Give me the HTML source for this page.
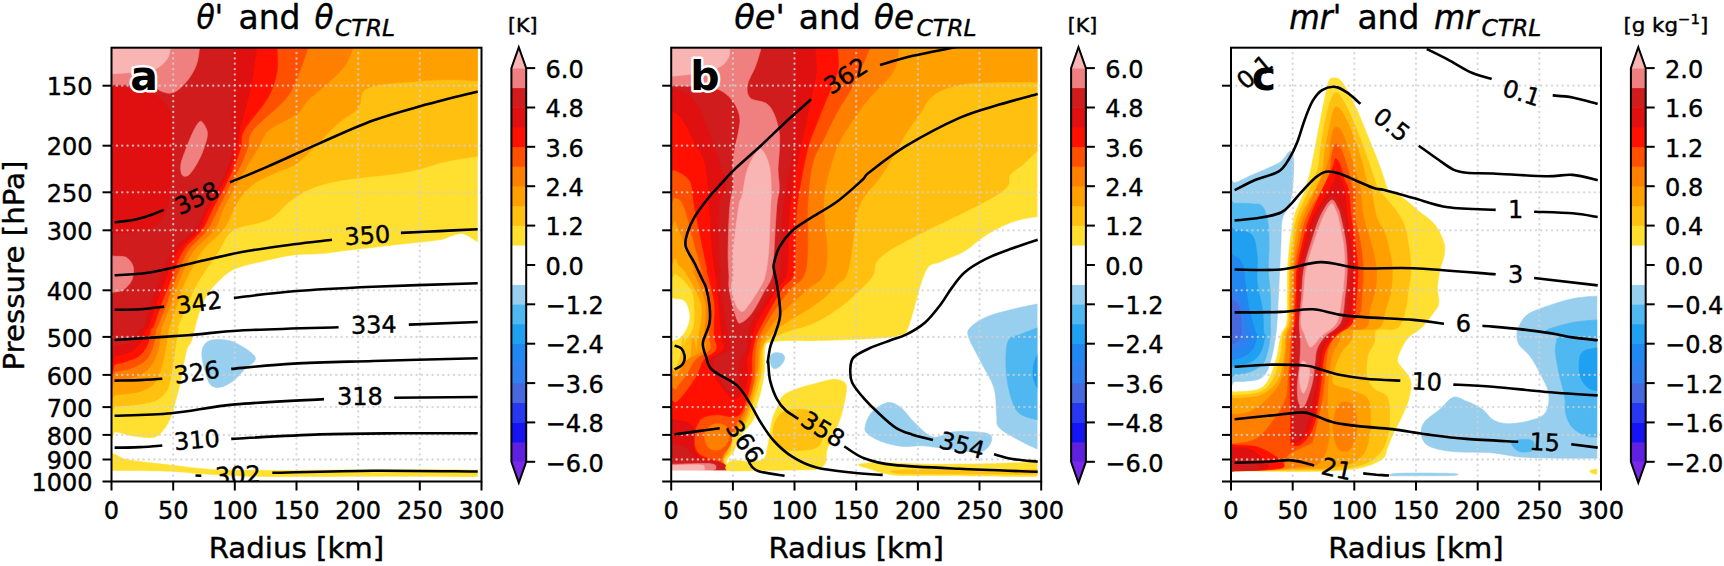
<!DOCTYPE html>
<html><head><meta charset="utf-8"><title>figure</title><style>html,body{margin:0;padding:0;background:#fff}body{width:1724px;height:566px;overflow:hidden}</style></head><body>
<svg width="1724" height="566" viewBox="0 0 1724 566" font-family='"DejaVu Sans", "Liberation Sans", sans-serif' style="display:block" stroke-linejoin="round">
<rect width="1724" height="566" fill="#fff"/>
<style>text{stroke:#000;stroke-width:.4px}text.w{stroke:#fff;stroke-width:5px}text.nb{stroke-width:0}</style>
<defs>
<clipPath id="cl0"><rect x="111.5" y="47.7" width="370.0" height="433.8"/></clipPath>
<clipPath id="cl1"><rect x="671.2" y="47.7" width="370.0" height="433.8"/></clipPath>
<clipPath id="cl2"><rect x="1231.0" y="47.7" width="370.0" height="433.8"/></clipPath>
</defs>
<g clip-path="url(#cl0)">
<clipPath id="dc0"><rect x="111.5" y="47.7" width="366.2" height="433.8"/></clipPath><g clip-path="url(#dc0)"><path d="M100.0,40.0 C164.4,-25.2 425.9,6.4 490.0,40.0 C554.1,73.6 486.4,208.1 484.4,241.7 C482.3,275.3 481.3,243.0 477.7,241.7 C474.2,240.4 467.8,234.6 463.2,233.7 C458.5,232.8 453.9,235.4 449.9,236.4 C445.9,237.4 447.7,238.5 439.3,239.8 C430.9,241.2 415.0,242.6 399.5,244.3 C384.1,246.1 359.8,248.9 346.5,250.4 C333.3,252.0 328.9,252.9 320.0,253.6 C311.2,254.4 302.4,253.8 293.5,254.9 C284.7,256.0 276.7,257.9 267.0,260.2 C257.3,262.5 243.3,265.2 235.2,268.8 C227.1,272.3 222.8,277.2 218.2,281.5 C213.6,285.7 210.5,290.0 207.6,294.2 C204.8,298.4 203.0,302.7 201.3,306.9 C199.5,311.2 198.6,314.1 197.0,319.6 C195.4,325.2 193.5,334.7 191.7,340.0 C190.0,345.3 188.4,344.0 186.4,351.2 C184.5,358.4 181.8,374.9 180.1,383.0 C178.3,391.1 177.3,394.7 175.8,400.0 C174.4,405.3 173.4,410.2 171.6,414.8 C169.8,419.4 168.1,423.8 165.2,427.5 C162.4,431.2 159.9,435.6 154.6,437.1 C149.3,438.5 140.0,436.9 133.4,436.0 C126.9,435.1 120.4,432.5 115.4,431.8 C110.5,431.0 106.3,496.6 103.8,431.3 C101.2,366.0 35.6,105.2 100.0,40.0Z" fill="#ffe030" stroke="#ffe030" stroke-width="0.6"/><path d="M102.7,453.5 C104.7,450.8 110.4,453.2 114.6,454.3 C118.8,455.3 118.7,458.1 127.9,459.8 C137.0,461.6 155.6,463.3 169.5,464.9 C183.4,466.5 195.1,468.4 211.4,469.4 C227.6,470.3 240.1,470.3 267.0,470.4 C294.0,470.5 336.8,469.9 373.0,469.9 C409.3,469.9 465.8,469.4 484.4,470.4 C502.9,471.5 502.9,475.3 484.4,476.3 C465.8,477.2 409.3,476.2 373.0,476.3 C336.8,476.3 294.0,476.8 267.0,476.5 C240.1,476.2 227.6,475.3 211.4,474.4 C195.1,473.5 185.6,471.9 169.5,471.2 C153.4,470.6 125.8,470.6 114.6,470.4 C103.5,470.3 104.7,473.3 102.7,470.4 C100.7,467.6 100.7,456.2 102.7,453.5Z" fill="#ffe030" stroke="#ffe030" stroke-width="0.6"/><path d="M100.0,40.0 C164.4,-21.1 425.8,20.6 490.0,40.0 C554.2,59.4 487.0,136.9 485.0,156.3 C483.1,175.7 485.0,155.4 478.4,156.3 C471.8,157.2 457.4,159.0 445.3,161.6 C433.1,164.3 422.6,169.2 405.5,172.2 C388.5,175.3 358.7,177.3 343.0,180.0 C327.3,182.7 320.0,184.9 311.2,188.5 C302.4,192.0 297.1,196.1 290.0,201.2 C282.9,206.3 278.3,214.5 268.8,219.4 C259.3,224.2 241.5,224.8 233.1,230.2 C224.7,235.6 224.2,242.9 218.2,251.8 C212.2,260.7 202.2,274.8 197.0,283.6 C191.9,292.4 190.7,297.7 187.5,304.8 C184.3,311.9 179.5,321.8 178.0,326.0 C176.4,330.2 178.5,325.8 178.0,330.0 C177.4,334.2 175.8,344.1 174.8,351.2 C173.7,358.3 172.8,366.0 171.6,372.4 C170.4,378.8 169.8,384.8 167.4,389.4 C164.9,394.0 161.4,397.5 156.8,400.0 C152.2,402.4 146.7,403.1 139.8,404.2 C132.9,405.3 121.4,406.0 115.4,406.3 C109.4,406.7 106.3,467.4 103.8,406.3 C101.2,345.3 35.6,101.1 100.0,40.0Z" fill="#ffc010" stroke="#ffc010" stroke-width="0.6"/><path d="M100.0,40.0 C164.4,-19.1 425.8,33.2 490.0,40.0 C554.2,46.8 487.0,74.0 485.0,80.8 C483.1,87.6 485.0,81.0 478.4,80.8 C471.8,80.6 457.4,79.2 445.3,79.5 C433.1,79.7 416.6,81.2 405.5,82.1 C394.5,83.0 386.1,83.2 379.0,84.8 C372.0,86.3 366.7,87.4 363.1,91.4 C359.6,95.4 362.2,103.1 357.8,108.6 C353.4,114.1 346.2,115.8 336.6,124.5 C327.0,133.2 310.1,152.9 300.0,160.9 C289.9,168.9 283.5,168.7 276.0,172.4 C268.5,176.1 260.7,178.9 254.8,183.0 C248.9,187.1 244.2,192.7 240.7,197.1 C237.1,201.6 236.5,204.0 233.6,209.5 C230.7,215.0 228.4,223.0 223.0,230.0 C217.6,237.0 207.7,242.9 201.3,251.8 C194.8,260.7 188.4,274.8 184.3,283.6 C180.3,292.4 179.4,297.7 176.9,304.8 C174.4,311.9 170.9,321.8 169.5,326.0 C168.1,330.2 169.1,325.8 168.4,330.0 C167.7,334.2 166.5,344.8 165.2,351.2 C164.0,357.6 162.8,362.9 161.0,368.2 C159.2,373.5 158.2,379.1 154.6,383.0 C151.1,386.9 146.3,389.5 139.8,391.5 C133.3,393.4 121.4,394.1 115.4,394.7 C109.4,395.2 106.3,453.8 103.8,394.7 C101.2,335.5 35.6,99.1 100.0,40.0Z" fill="#ffa000" stroke="#ffa000" stroke-width="0.6"/><path d="M100.0,40.0 C141.5,-16.4 310.4,40.9 352.5,42.3 C394.6,43.8 353.8,45.0 352.5,49.0 C351.2,53.0 349.0,60.2 344.6,66.2 C340.2,72.2 332.2,79.0 326.0,84.8 C319.8,90.5 312.3,95.8 307.5,100.7 C302.6,105.5 303.3,109.0 296.9,113.9 C290.4,118.8 275.4,124.4 268.9,130.0 C262.5,135.6 261.9,141.8 258.3,147.7 C254.8,153.6 251.3,159.4 247.7,165.3 C244.2,171.2 241.3,175.6 237.1,183.0 C233.0,190.4 226.8,201.7 223.0,209.5 C219.2,217.3 219.2,223.0 214.2,230.0 C209.1,237.0 198.8,242.9 192.8,251.8 C186.8,260.7 181.7,274.8 178.0,283.6 C174.2,292.4 173.2,297.7 170.5,304.8 C167.9,311.9 163.6,321.8 162.1,326.0 C160.5,330.2 161.5,326.5 161.0,330.0 C160.5,333.5 160.1,341.7 158.9,347.0 C157.6,352.3 156.1,357.6 153.6,361.8 C151.1,366.0 148.1,369.6 144.0,372.4 C140.0,375.2 134.0,377.3 129.2,378.8 C124.4,380.2 119.7,380.5 115.4,380.9 C111.2,381.2 106.3,437.7 103.8,380.9 C101.2,324.1 58.5,96.4 100.0,40.0Z" fill="#ff8000" stroke="#ff8000" stroke-width="0.6"/><path d="M100.0,40.0 C134.0,-14.8 272.9,40.9 307.5,42.3 C342.0,43.8 308.8,44.1 307.5,49.0 C306.1,53.8 303.0,63.3 299.5,71.5 C296.0,79.7 294.0,88.3 286.3,98.0 C278.5,107.8 259.5,121.7 253.0,130.0 C246.6,138.3 249.8,141.8 247.7,147.7 C245.7,153.6 243.5,159.4 240.7,165.3 C237.9,171.2 234.8,175.6 231.0,183.0 C227.1,190.4 221.7,201.7 217.7,209.5 C213.7,217.3 212.1,223.0 207.1,230.0 C202.1,237.0 193.1,242.9 187.5,251.8 C181.9,260.7 177.3,274.8 173.7,283.6 C170.2,292.4 168.9,297.7 166.3,304.8 C163.6,311.9 159.6,321.8 157.8,326.0 C156.1,330.2 156.4,326.9 155.7,330.0 C155.0,333.1 155.2,339.9 153.6,344.8 C152.0,349.8 149.9,355.8 146.2,359.7 C142.4,363.6 136.4,366.2 131.3,368.2 C126.2,370.1 120.0,370.8 115.4,371.3 C110.8,371.9 106.3,426.6 103.8,371.3 C101.2,316.1 66.0,94.8 100.0,40.0Z" fill="#ff5000" stroke="#ff5000" stroke-width="0.6"/><path d="M100.0,40.0 C128.9,-13.6 247.5,40.9 277.0,42.3 C306.5,43.8 277.0,44.1 277.0,49.0 C277.0,53.8 278.5,63.3 277.0,71.5 C275.4,79.7 273.2,88.3 267.7,98.0 C262.2,107.8 248.7,121.7 244.2,130.0 C239.7,138.3 242.3,141.8 240.7,147.7 C239.1,153.6 236.8,159.4 234.5,165.3 C232.1,171.2 230.2,175.6 226.5,183.0 C222.9,190.4 216.5,201.7 212.4,209.5 C208.3,217.3 206.8,223.0 201.8,230.0 C196.8,237.0 187.6,242.9 182.2,251.8 C176.8,260.7 173.0,274.8 169.5,283.6 C165.9,292.4 163.6,297.7 161.0,304.8 C158.3,311.9 155.3,321.8 153.6,326.0 C151.8,330.2 151.3,327.2 150.4,330.0 C149.5,332.8 150.0,338.5 148.3,342.7 C146.5,347.0 143.7,352.3 139.8,355.4 C135.9,358.6 129.0,360.4 125.0,361.8 C120.9,363.2 119.0,363.6 115.4,363.9 C111.9,364.3 106.3,417.9 103.8,363.9 C101.2,309.9 71.1,93.6 100.0,40.0Z" fill="#ff1000" stroke="#ff1000" stroke-width="0.6"/><path d="M100.0,40.0 C125.4,-12.2 230.4,40.9 256.4,42.3 C282.5,43.8 257.3,41.9 256.4,49.0 C255.5,56.0 253.3,73.5 251.1,84.8 C248.9,96.0 245.1,109.0 243.2,116.6 C241.3,124.1 240.9,124.8 239.8,130.0 C238.6,135.2 237.7,141.8 236.3,147.7 C234.8,153.6 233.2,159.4 231.0,165.3 C228.7,171.2 226.8,175.6 223.0,183.0 C219.2,190.4 212.1,201.7 208.0,209.5 C203.9,217.3 203.4,223.0 198.3,230.0 C193.1,237.0 182.6,242.9 176.9,251.8 C171.2,260.7 167.7,274.8 164.2,283.6 C160.6,292.4 158.3,297.7 155.7,304.8 C153.1,311.9 150.5,321.8 148.7,326.0 C146.9,330.2 146.2,327.6 145.1,330.0 C144.0,332.4 143.9,337.2 141.9,340.6 C140.0,344.0 136.6,347.8 133.4,350.1 C130.3,352.4 125.8,353.5 122.8,354.4 C119.8,355.3 118.6,355.3 115.4,355.4 C112.2,355.6 106.3,408.0 103.8,355.4 C101.2,302.9 74.6,92.2 100.0,40.0Z" fill="#e01010" stroke="#e01010" stroke-width="0.6"/><path d="M100.0,40.0 C121.7,-10.6 211.6,40.9 233.9,42.3 C256.2,43.8 234.1,44.1 233.9,49.0 C233.7,53.8 232.8,63.3 232.6,71.5 C232.3,79.7 232.8,89.2 232.6,98.0 C232.3,106.8 230.9,119.2 231.2,124.5 C231.6,129.8 234.2,126.1 234.5,130.0 C234.7,133.9 233.8,141.8 232.7,147.7 C231.7,153.6 230.4,159.4 228.3,165.3 C226.2,171.2 224.2,175.6 220.4,183.0 C216.5,190.4 209.6,201.7 205.3,209.5 C201.1,217.3 200.4,223.0 194.7,230.0 C189.1,237.0 177.8,242.9 171.6,251.8 C165.4,260.7 161.4,274.8 157.8,283.6 C154.3,292.4 152.7,297.7 150.4,304.8 C148.1,311.9 145.8,321.8 144.0,326.0 C142.3,330.2 141.0,328.1 139.8,330.0 C138.6,331.9 138.4,335.3 136.6,337.4 C134.9,339.5 132.7,341.3 129.2,342.7 C125.7,344.1 119.7,345.4 115.4,345.9 C111.2,346.4 106.3,396.9 103.8,345.9 C101.2,294.9 78.3,90.6 100.0,40.0Z" fill="#d01c1c" stroke="#d01c1c" stroke-width="0.6"/><path d="M103.1,87.0 C104.9,62.7 108.4,86.6 114.2,87.0 C120.0,87.5 130.5,87.9 137.7,89.5 C144.9,91.2 152.3,93.6 157.5,96.9 C162.6,100.2 166.2,104.4 168.6,109.3 C171.0,114.3 171.2,118.8 171.8,126.6 C172.4,134.5 172.6,146.6 172.3,156.3 C172.1,166.0 171.4,175.9 170.3,184.7 C169.3,193.6 168.9,202.5 166.1,209.5 C163.4,216.5 159.3,223.1 153.8,226.8 C148.2,230.5 139.1,230.7 132.7,231.7 C126.3,232.8 120.4,232.8 115.4,233.0 C110.5,233.2 105.1,257.3 103.1,233.0 C101.0,208.6 101.2,111.4 103.1,87.0Z" fill="#e01010" stroke="#e01010" stroke-width="0.6"/><path d="M100.0,40.0 C116.1,32.9 182.9,40.9 199.4,42.3 C216.0,43.8 199.9,45.4 199.4,49.0 C199.0,52.5 198.3,58.9 196.8,63.6 C195.2,68.2 193.0,72.6 190.2,76.8 C187.3,81.0 182.9,86.0 179.6,88.7 C176.2,91.5 173.6,92.9 170.3,93.2 C167.0,93.5 162.6,92.0 159.7,90.6 C156.8,89.2 157.3,85.7 153.1,84.8 C148.9,83.8 140.9,84.8 134.5,84.8 C128.1,84.8 119.9,84.8 114.6,84.8 C109.3,84.8 105.1,92.2 102.7,84.8 C100.3,77.3 83.9,47.1 100.0,40.0Z" fill="#f08080" stroke="#f08080" stroke-width="0.6"/><path d="M202.1,121.9 C203.6,123.4 206.9,128.5 207.4,132.5 C207.8,136.4 206.3,140.9 204.7,145.7 C203.2,150.6 200.8,156.8 198.1,161.6 C195.5,166.5 191.5,172.7 188.8,174.9 C186.2,177.1 183.5,176.6 182.2,174.9 C180.9,173.1 180.2,168.7 180.9,164.3 C181.5,159.9 184.2,153.7 186.2,148.4 C188.2,143.1 190.8,136.7 192.8,132.5 C194.8,128.3 196.6,125.0 198.1,123.2 C199.7,121.4 200.5,120.3 202.1,121.9Z" fill="#f08080" stroke="#f08080" stroke-width="0.6"/><path d="M102.7,256.3 C104.7,250.3 110.7,256.0 114.6,256.3 C118.6,256.5 123.5,255.8 126.6,257.6 C129.6,259.4 132.3,263.1 133.2,266.9 C134.1,270.6 133.4,276.4 131.9,280.1 C130.3,283.9 126.8,287.4 123.9,289.4 C121.0,291.4 118.2,291.6 114.6,292.0 C111.1,292.5 104.7,298.0 102.7,292.0 C100.7,286.1 100.7,262.2 102.7,256.3Z" fill="#f08080" stroke="#f08080" stroke-width="0.6"/><path d="M100.0,40.0 C111.3,34.8 158.6,40.9 170.3,42.3 C182.0,43.8 170.7,46.3 170.3,49.0 C169.8,51.6 169.6,55.2 167.6,58.3 C165.6,61.3 162.1,65.3 158.4,67.5 C154.6,69.7 150.0,70.6 145.1,71.5 C140.2,72.4 134.3,72.5 129.2,72.8 C124.1,73.2 119.0,73.5 114.6,73.6 C110.2,73.8 105.1,79.2 102.7,73.6 C100.3,68.0 88.7,45.2 100.0,40.0Z" fill="#f9b4b4" stroke="#f9b4b4" stroke-width="0.6"/><path d="M202.3,349.1 C203.2,346.1 205.0,343.2 207.6,341.7 C210.3,340.1 213.6,339.4 218.2,339.5 C222.8,339.7 229.0,339.7 235.2,342.7 C241.4,345.7 253.9,353.0 255.3,357.6 C256.8,362.2 247.4,366.4 243.7,370.3 C240.0,374.2 237.0,378.1 233.1,380.9 C229.2,383.7 224.1,386.5 220.4,387.2 C216.6,387.9 213.3,387.6 210.8,385.1 C208.3,382.6 206.9,376.6 205.5,372.4 C204.1,368.2 202.9,363.6 202.3,359.7 C201.8,355.8 201.5,352.1 202.3,349.1Z" fill="#98ceee" stroke="#98ceee" stroke-width="0.6"/></g>
<g stroke="#d0d0d0" stroke-opacity="0.85" stroke-width="2.3" stroke-linecap="round" stroke-dasharray="0.1,5.25" fill="none"><line x1="173.2" y1="47.7" x2="173.2" y2="481.5"/><line x1="234.8" y1="47.7" x2="234.8" y2="481.5"/><line x1="296.5" y1="47.7" x2="296.5" y2="481.5"/><line x1="358.2" y1="47.7" x2="358.2" y2="481.5"/><line x1="419.8" y1="47.7" x2="419.8" y2="481.5"/><line x1="111.5" y1="85.7" x2="481.5" y2="85.7"/><line x1="111.5" y1="145.7" x2="481.5" y2="145.7"/><line x1="111.5" y1="192.3" x2="481.5" y2="192.3"/><line x1="111.5" y1="230.3" x2="481.5" y2="230.3"/><line x1="111.5" y1="290.3" x2="481.5" y2="290.3"/><line x1="111.5" y1="336.9" x2="481.5" y2="336.9"/><line x1="111.5" y1="374.9" x2="481.5" y2="374.9"/><line x1="111.5" y1="407.1" x2="481.5" y2="407.1"/><line x1="111.5" y1="434.9" x2="481.5" y2="434.9"/><line x1="111.5" y1="459.5" x2="481.5" y2="459.5"/></g>
<path d="M114.6,380.6 C118.8,380.5 131.9,380.4 139.8,380.1 C147.8,379.7 158.6,379.0 162.3,378.7" fill="none" stroke="#000" stroke-width="2.6" stroke-linecap="butt"/><path d="M231.2,368.9 C241.6,368.0 269.9,364.9 293.5,363.6 C317.2,362.3 342.3,361.9 373.0,361.0 C403.7,360.1 460.3,358.8 477.7,358.3" fill="none" stroke="#000" stroke-width="2.6" stroke-linecap="butt"/><text transform="translate(196.8,372.1) rotate(-8)" font-size="24" text-anchor="middle" dy="0.36em">326</text><path d="M114.6,415.8 C124.1,415.4 151.5,415.1 171.6,413.2 C191.7,411.3 209.8,406.8 235.2,404.4 C260.6,402.1 309.2,400.0 324.0,399.1" fill="none" stroke="#000" stroke-width="2.6" stroke-linecap="butt"/><path d="M394.2,397.8 L477.7,397.0" fill="none" stroke="#000" stroke-width="2.6" stroke-linecap="butt"/><text transform="translate(359.8,396.5) rotate(0)" font-size="24" text-anchor="middle" dy="0.36em">318</text><path d="M114.6,447.6 C118.8,447.6 131.9,447.5 139.8,447.1 C147.8,446.8 158.6,445.8 162.3,445.5" fill="none" stroke="#000" stroke-width="2.6" stroke-linecap="butt"/><path d="M231.2,438.9 C246.0,438.1 292.0,435.3 320.0,434.4 C348.1,433.5 373.3,433.5 399.5,433.3 C425.8,433.2 464.7,433.3 477.7,433.3" fill="none" stroke="#000" stroke-width="2.6" stroke-linecap="butt"/><text transform="translate(196.8,439.7) rotate(-5)" font-size="24" text-anchor="middle" dy="0.36em">310</text><path d="M195.5,475.5 L201.3,475.7" fill="none" stroke="#000" stroke-width="2.6" stroke-linecap="butt"/><path d="M272.3,472.8 C289.1,472.5 338.8,470.9 373.0,470.7 C407.3,470.5 460.3,471.4 477.7,471.5" fill="none" stroke="#000" stroke-width="2.6" stroke-linecap="butt"/><text transform="translate(237.9,474.9) rotate(-3)" font-size="24" text-anchor="middle" dy="0.36em">302</text><path d="M114.6,340.0 C126.8,339.2 166.5,336.8 187.5,335.2 C208.5,333.7 215.3,331.8 240.5,330.5 C265.7,329.1 322.2,327.8 338.6,327.3" fill="none" stroke="#000" stroke-width="2.6" stroke-linecap="butt"/><path d="M408.8,324.6 L477.7,322.0" fill="none" stroke="#000" stroke-width="2.6" stroke-linecap="butt"/><text transform="translate(373.8,324.6) rotate(-1)" font-size="24" text-anchor="middle" dy="0.36em">334</text><path d="M114.6,309.8 C118.8,309.7 131.5,309.8 139.8,309.3 C148.1,308.7 160.1,307.1 164.2,306.6" fill="none" stroke="#000" stroke-width="2.6" stroke-linecap="butt"/><path d="M233.9,297.9 C243.8,296.8 270.3,293.1 293.5,291.2 C316.7,289.4 342.3,288.1 373.0,286.7 C403.7,285.4 460.3,283.9 477.7,283.3" fill="none" stroke="#000" stroke-width="2.6" stroke-linecap="butt"/><text transform="translate(198.9,302.6) rotate(-8)" font-size="24" text-anchor="middle" dy="0.36em">342</text><path d="M114.6,275.3 C120.1,274.9 135.6,274.5 147.8,272.7 C159.9,270.8 172.1,267.6 187.5,264.2 C203.0,260.8 222.9,255.6 240.5,252.3 C258.2,249.0 278.3,246.4 293.5,244.3 C308.8,242.3 325.6,240.6 332.0,239.8" fill="none" stroke="#000" stroke-width="2.6" stroke-linecap="butt"/><path d="M400.9,232.9 C407.3,232.6 426.5,231.7 439.3,231.1 C452.1,230.5 471.3,229.5 477.7,229.2" fill="none" stroke="#000" stroke-width="2.6" stroke-linecap="butt"/><text transform="translate(367.2,235.1) rotate(-4)" font-size="24" text-anchor="middle" dy="0.36em">350</text><path d="M114.6,222.3 C117.9,221.9 128.5,220.9 134.5,219.7 C140.5,218.5 145.5,216.8 150.4,215.2 C155.3,213.5 161.4,210.8 163.7,209.9" fill="none" stroke="#000" stroke-width="2.6" stroke-linecap="butt"/><path d="M229.9,182.3 C236.1,179.7 252.0,173.5 267.0,166.9 C282.0,160.4 302.4,150.8 320.0,143.1 C337.7,135.3 355.4,126.9 373.0,120.5 C390.7,114.1 408.6,109.5 426.0,104.6 C443.5,99.8 469.1,93.6 477.7,91.4" fill="none" stroke="#000" stroke-width="2.6" stroke-linecap="butt"/><text transform="translate(196.8,198.0) rotate(-25)" font-size="24" text-anchor="middle" dy="0.36em">358</text><text x="144" y="90" font-size="41" font-weight="bold" text-anchor="middle" class="w" stroke-linejoin="round" fill="#fff">a</text><text x="144" y="90" font-size="41" font-weight="bold" text-anchor="middle" fill="#000" class="nb">a</text>
</g>

<rect x="111.5" y="47.7" width="370.0" height="433.8" fill="none" stroke="#000" stroke-width="2" stroke-linejoin="miter"/>
<g stroke="#000" stroke-width="2"><line x1="111.5" y1="481.5" x2="111.5" y2="490.5"/><line x1="173.2" y1="481.5" x2="173.2" y2="490.5"/><line x1="234.8" y1="481.5" x2="234.8" y2="490.5"/><line x1="296.5" y1="481.5" x2="296.5" y2="490.5"/><line x1="358.2" y1="481.5" x2="358.2" y2="490.5"/><line x1="419.8" y1="481.5" x2="419.8" y2="490.5"/><line x1="481.5" y1="481.5" x2="481.5" y2="490.5"/><line x1="111.5" y1="85.7" x2="102.5" y2="85.7"/><line x1="111.5" y1="145.7" x2="102.5" y2="145.7"/><line x1="111.5" y1="192.3" x2="102.5" y2="192.3"/><line x1="111.5" y1="230.3" x2="102.5" y2="230.3"/><line x1="111.5" y1="290.3" x2="102.5" y2="290.3"/><line x1="111.5" y1="336.9" x2="102.5" y2="336.9"/><line x1="111.5" y1="374.9" x2="102.5" y2="374.9"/><line x1="111.5" y1="407.1" x2="102.5" y2="407.1"/><line x1="111.5" y1="434.9" x2="102.5" y2="434.9"/><line x1="111.5" y1="459.5" x2="102.5" y2="459.5"/><line x1="111.5" y1="481.5" x2="102.5" y2="481.5"/></g>
<g font-size="24" fill="#000"><text x="111.5" y="518.5" text-anchor="middle">0</text><text x="173.2" y="518.5" text-anchor="middle">50</text><text x="234.8" y="518.5" text-anchor="middle">100</text><text x="296.5" y="518.5" text-anchor="middle">150</text><text x="358.2" y="518.5" text-anchor="middle">200</text><text x="419.8" y="518.5" text-anchor="middle">250</text><text x="481.5" y="518.5" text-anchor="middle">300</text><text x="92.5" y="95.3" text-anchor="end">150</text><text x="92.5" y="155.3" text-anchor="end">200</text><text x="92.5" y="201.9" text-anchor="end">250</text><text x="92.5" y="239.9" text-anchor="end">300</text><text x="92.5" y="299.9" text-anchor="end">400</text><text x="92.5" y="346.5" text-anchor="end">500</text><text x="92.5" y="384.5" text-anchor="end">600</text><text x="92.5" y="416.7" text-anchor="end">700</text><text x="92.5" y="444.5" text-anchor="end">800</text><text x="92.5" y="469.1" text-anchor="end">900</text><text x="92.5" y="491.1" text-anchor="end">1000</text></g>
<text x="208.7" y="558.3" font-size="27.6" textLength="175.5" lengthAdjust="spacingAndGlyphs">Radius [km]</text>
<text transform="translate(23.8,370.6) rotate(-90)" font-size="27.6" textLength="210" lengthAdjust="spacingAndGlyphs">Pressure [hPa]</text>
<text x="196.5" y="29.4" font-size="33" font-style="italic" textLength="26.5" lengthAdjust="spacingAndGlyphs">θ'</text>
<text x="238.5" y="29.4" font-size="33" textLength="62" lengthAdjust="spacingAndGlyphs">and</text>
<text x="314.5" y="29.4" font-size="33" font-style="italic" textLength="19" lengthAdjust="spacingAndGlyphs">θ</text>
<text x="335" y="35.6" font-size="23" font-style="italic" textLength="60" lengthAdjust="spacingAndGlyphs">CTRL</text>
<rect x="511.4" y="441.81" width="14.8" height="20.29" fill="#6020e0"/><rect x="511.4" y="422.13" width="14.8" height="20.29" fill="#1414f5"/><rect x="511.4" y="402.44" width="14.8" height="20.29" fill="#2838f0"/><rect x="511.4" y="382.76" width="14.8" height="20.29" fill="#4868e0"/><rect x="511.4" y="363.07" width="14.8" height="20.29" fill="#3080f0"/><rect x="511.4" y="343.39" width="14.8" height="20.29" fill="#2088f0"/><rect x="511.4" y="323.70" width="14.8" height="20.29" fill="#20a0f0"/><rect x="511.4" y="304.02" width="14.8" height="20.29" fill="#50b8f0"/><rect x="511.4" y="284.33" width="14.8" height="20.29" fill="#98ceee"/><rect x="511.4" y="264.65" width="14.8" height="20.29" fill="#ffffff"/><rect x="511.4" y="244.96" width="14.8" height="20.29" fill="#ffffff"/><rect x="511.4" y="225.28" width="14.8" height="20.29" fill="#ffe030"/><rect x="511.4" y="205.59" width="14.8" height="20.29" fill="#ffc010"/><rect x="511.4" y="185.91" width="14.8" height="20.29" fill="#ffa000"/><rect x="511.4" y="166.22" width="14.8" height="20.29" fill="#ff8000"/><rect x="511.4" y="146.54" width="14.8" height="20.29" fill="#ff5000"/><rect x="511.4" y="126.85" width="14.8" height="20.29" fill="#ff1000"/><rect x="511.4" y="107.17" width="14.8" height="20.29" fill="#e01010"/><rect x="511.4" y="87.48" width="14.8" height="20.29" fill="#d01c1c"/><rect x="511.4" y="67.80" width="14.8" height="20.29" fill="#f08080"/><path d="M511.4,68.39999999999999 L518.8,47.2 L526.2,68.39999999999999Z" fill="#f9b4b4"/><path d="M511.4,461.5 L518.8,482.8 L526.2,461.5Z" fill="#7828e8"/><path d="M511.4,68.1 L518.8,47.2 L526.2,68.1 L526.2,461.8 L518.8,482.8 L511.4,461.8Z" fill="none" stroke="#000" stroke-width="2" stroke-linejoin="miter"/>
<g stroke="#000" stroke-width="2"><line x1="526.2" y1="68.1" x2="535.2" y2="68.1"/><line x1="526.2" y1="107.5" x2="535.2" y2="107.5"/><line x1="526.2" y1="146.8" x2="535.2" y2="146.8"/><line x1="526.2" y1="186.2" x2="535.2" y2="186.2"/><line x1="526.2" y1="225.6" x2="535.2" y2="225.6"/><line x1="526.2" y1="265.0" x2="535.2" y2="265.0"/><line x1="526.2" y1="304.3" x2="535.2" y2="304.3"/><line x1="526.2" y1="343.7" x2="535.2" y2="343.7"/><line x1="526.2" y1="383.1" x2="535.2" y2="383.1"/><line x1="526.2" y1="422.4" x2="535.2" y2="422.4"/><line x1="526.2" y1="461.8" x2="535.2" y2="461.8"/></g>
<g font-size="24" fill="#000"><text x="545.6" y="77.8">6.0</text><text x="545.6" y="117.2">4.8</text><text x="545.6" y="156.5">3.6</text><text x="545.6" y="195.9">2.4</text><text x="545.6" y="235.3">1.2</text><text x="545.6" y="274.7">0.0</text><text x="545.6" y="314.0">−1.2</text><text x="545.6" y="353.4">−2.4</text><text x="545.6" y="392.8">−3.6</text><text x="545.6" y="432.1">−4.8</text><text x="545.6" y="471.5">−6.0</text></g>
<text x="508.0" y="31.9" font-size="19.5" textLength="29.5" lengthAdjust="spacingAndGlyphs">[K]</text>
<g clip-path="url(#cl1)">
<clipPath id="dc1"><rect x="671.2" y="47.7" width="366.20000000000005" height="433.8"/></clipPath><g clip-path="url(#dc1)"><path d="M660.0,40.0 C724.6,-31.7 985.9,10.6 1050.0,40.0 C1114.1,69.4 1046.4,187.1 1044.4,216.5 C1042.3,245.9 1043.0,215.6 1037.7,216.5 C1032.4,217.4 1021.2,218.7 1012.6,221.8 C1003.9,224.9 994.0,230.2 986.0,235.1 C978.1,239.9 972.4,246.5 964.8,251.0 C957.3,255.4 947.6,258.0 941.0,261.6 C934.4,265.1 930.6,261.0 925.1,272.2 C919.6,283.3 912.5,317.8 907.9,328.3 C903.4,338.8 902.3,333.8 897.7,335.4 C893.0,337.0 888.8,337.3 880.0,338.0 C871.2,338.8 856.5,339.3 844.7,339.8 C832.9,340.2 819.6,340.5 809.3,340.7 C799.0,340.8 789.6,340.4 782.8,340.7 C776.1,341.0 771.7,341.6 768.7,342.4 C765.8,343.3 765.9,343.3 765.2,346.0 C764.4,348.6 764.4,354.3 764.3,358.3 C764.2,362.3 764.9,364.7 764.4,370.0 C763.9,375.3 762.5,384.1 761.1,390.2 C759.7,396.4 757.5,401.7 756.2,406.7 C754.8,411.7 755.9,414.9 752.9,420.4 C749.8,425.8 740.9,434.5 737.8,439.5 C734.7,444.5 736.1,447.1 734.3,450.5 C732.4,453.9 728.6,456.7 726.9,460.1 C725.2,463.4 729.4,468.7 724.1,470.5 C718.9,472.2 703.7,470.5 695.4,470.5 C687.0,470.5 679.5,470.5 674.0,470.5 C668.5,470.5 664.9,542.2 662.5,470.5 C660.2,398.7 595.4,111.7 660.0,40.0Z" fill="#ffe030" stroke="#ffe030" stroke-width="0.6"/><path d="M660.0,40.0 C724.3,1.2 985.9,21.5 1050.0,40.0 C1114.1,58.5 1046.4,132.5 1044.4,151.0 C1042.3,169.5 1041.3,148.8 1037.7,151.0 C1034.2,153.2 1027.8,160.3 1023.2,164.3 C1018.5,168.2 1014.3,169.7 1009.9,174.9 C1005.5,180.0 1016.8,182.4 996.7,195.0 C976.5,207.6 909.5,237.3 888.8,250.7 C868.2,264.1 877.4,269.2 872.9,275.4 C868.5,281.6 867.1,283.0 862.3,287.7 C857.6,292.4 850.6,298.9 844.7,303.6 C838.8,308.3 832.9,312.4 827.0,315.9 C821.1,319.5 815.2,322.4 809.3,324.8 C803.5,327.1 797.0,328.3 791.7,330.1 C786.4,331.8 781.7,333.6 777.5,335.4 C773.4,337.1 769.4,338.3 766.9,340.7 C764.4,343.0 763.4,344.6 762.5,349.5 C761.6,354.4 762.6,363.2 761.6,370.0 C760.7,376.8 758.7,384.1 757.0,390.2 C755.3,396.4 753.1,401.7 751.5,406.7 C749.9,411.7 750.5,414.9 747.4,420.4 C744.4,425.8 736.0,434.5 733.2,439.5 C730.3,444.5 731.9,447.1 730.4,450.5 C728.9,453.9 725.2,456.7 724.1,460.1 C723.1,463.4 728.9,468.7 724.1,470.5 C719.3,472.2 703.7,470.5 695.4,470.5 C687.0,470.5 679.5,470.5 674.0,470.5 C668.5,470.5 664.4,487.5 662.5,470.5 C660.6,453.4 660.6,385.4 662.5,368.3 C664.4,351.3 671.5,369.0 674.0,368.3 C676.5,367.7 676.5,366.1 677.6,364.2 C678.6,362.4 679.6,359.9 680.3,357.4 C681.0,354.9 681.2,352.6 681.7,349.2 C682.1,345.7 682.5,336.8 683.1,336.8 C683.6,336.9 684.3,348.9 684.8,349.5 C685.2,350.1 684.6,343.3 685.7,340.7 C686.7,338.0 689.5,336.5 691.0,333.6 C692.4,330.7 693.9,327.7 694.5,323.0 C695.1,318.3 694.8,310.3 694.5,305.3 C694.2,300.3 694.2,296.8 692.7,293.0 C691.3,289.1 688.6,285.6 685.7,282.4 C682.7,279.1 678.6,275.2 675.1,273.5 C671.5,271.9 667.0,311.6 664.5,272.7 C662.0,233.7 595.7,78.8 660.0,40.0Z" fill="#ffc010" stroke="#ffc010" stroke-width="0.6"/><path d="M660.0,40.0 C724.3,4.0 985.9,33.0 1050.0,40.0 C1114.1,47.0 1046.4,75.1 1044.4,82.1 C1042.3,89.1 1045.2,82.1 1037.7,82.1 C1030.2,82.1 1012.3,81.7 999.3,82.1 C986.3,82.5 970.6,82.5 959.5,84.8 C948.5,87.0 939.7,90.5 933.0,95.4 C926.4,100.2 924.2,107.7 919.8,113.9 C915.4,120.1 911.0,125.4 906.5,132.5 C902.1,139.5 897.7,148.8 893.3,156.3 C888.9,163.8 885.8,169.2 880.0,177.5 C874.3,185.9 863.5,194.3 858.8,206.5 C854.1,218.7 853.8,239.2 851.7,250.7 C849.7,262.2 848.8,269.8 846.4,275.4 C844.1,281.0 841.4,280.3 837.6,284.1 C833.8,287.9 828.8,293.9 823.5,298.3 C818.2,302.7 811.7,306.8 805.8,310.6 C799.9,314.5 793.4,317.7 788.1,321.2 C782.8,324.8 778.0,328.3 774.0,331.8 C770.0,335.4 766.6,338.6 764.3,342.4 C761.9,346.3 760.8,350.2 759.9,354.8 C759.0,359.4 759.9,364.1 759.0,370.0 C758.1,375.9 756.1,384.1 754.5,390.2 C753.0,396.4 751.2,401.7 749.6,406.7 C748.0,411.7 747.8,414.9 744.7,420.4 C741.6,425.8 733.8,434.5 731.0,439.5 C728.1,444.5 729.0,447.1 727.7,450.5 C726.4,453.9 723.9,456.7 723.3,460.1 C722.7,463.4 728.8,468.7 724.1,470.5 C719.5,472.2 703.7,470.5 695.4,470.5 C687.0,470.5 679.5,470.5 674.0,470.5 C668.5,470.5 664.4,487.0 662.5,470.5 C660.6,453.9 660.6,387.6 662.5,371.1 C664.4,354.5 670.4,371.6 674.0,371.1 C677.7,370.5 681.7,370.1 684.4,367.8 C687.2,365.5 689.1,362.5 690.5,357.4 C691.8,352.2 691.7,338.2 692.6,336.8 C693.6,335.5 695.4,349.5 696.3,349.5 C697.2,349.6 697.2,341.6 698.0,337.1 C698.8,332.7 700.4,328.3 701.0,323.0 C701.6,317.7 702.7,311.2 701.6,305.3 C700.5,299.4 697.4,293.6 694.5,287.7 C691.6,281.8 686.6,273.8 683.9,270.0 C681.3,266.2 680.1,266.8 678.6,264.8 C677.1,262.8 677.4,259.2 675.1,257.7 C672.7,256.3 667.0,292.3 664.5,256.0 C662.0,219.7 595.7,76.0 660.0,40.0Z" fill="#ffa000" stroke="#ffa000" stroke-width="0.6"/><path d="M660.0,40.0 C699.0,10.4 858.8,40.9 898.6,42.3 C938.4,43.8 899.5,44.1 898.6,49.0 C897.7,53.8 898.1,63.3 893.3,71.5 C888.4,79.7 876.1,90.1 869.4,98.0 C862.8,106.0 858.8,111.3 853.5,119.2 C848.2,127.2 842.0,135.6 837.6,145.7 C833.2,155.8 829.4,169.9 827.0,180.0 C824.7,190.1 823.5,194.7 823.5,206.5 C823.5,218.3 827.0,239.2 827.0,250.7 C827.0,262.2 826.4,269.2 823.5,275.4 C820.5,281.6 814.6,283.0 809.3,287.7 C804.0,292.4 797.0,298.6 791.7,303.6 C786.4,308.6 781.7,313.0 777.5,317.7 C773.4,322.4 769.9,327.4 766.9,331.8 C764.0,336.3 761.5,337.8 759.9,344.2 C758.3,350.6 758.5,362.3 757.2,370.0 C756.0,377.7 753.9,384.1 752.3,390.2 C750.8,396.4 749.6,401.7 748.0,406.7 C746.3,411.7 745.5,414.9 742.5,420.4 C739.4,425.8 732.4,434.5 729.6,439.5 C726.8,444.5 726.6,447.1 725.5,450.5 C724.4,453.9 723.0,456.7 722.8,460.1 C722.5,463.4 728.7,468.7 724.1,470.5 C719.6,472.2 703.7,470.5 695.4,470.5 C687.0,470.5 679.5,470.5 674.0,470.5 C668.5,470.5 664.2,486.1 662.5,470.5 C660.8,454.9 661.6,392.5 663.8,377.0 C665.9,361.4 672.8,378.0 675.4,377.0 C678.1,375.9 677.7,373.4 679.7,370.6 C681.6,367.8 682.8,363.5 687.1,360.0 C691.3,356.5 702.2,353.3 705.1,349.5 C708.0,345.7 704.2,341.6 704.2,337.1 C704.3,332.7 705.2,328.3 705.5,323.0 C705.8,317.7 706.8,311.2 706.0,305.3 C705.2,299.4 702.9,293.6 700.7,287.7 C698.5,281.8 693.5,272.0 692.7,270.0 C692.0,268.0 697.2,278.6 696.3,275.4 C695.4,272.2 690.7,259.2 687.4,250.7 C684.2,242.1 678.9,229.2 676.8,224.2 C674.8,219.2 677.1,221.4 675.1,220.6 C673.0,219.9 667.0,249.9 664.5,219.8 C662.0,189.6 621.0,69.6 660.0,40.0Z" fill="#ff8000" stroke="#ff8000" stroke-width="0.6"/><path d="M660.0,40.0 C694.2,14.4 834.5,40.9 869.4,42.3 C904.3,43.8 872.1,41.9 869.4,49.0 C866.8,56.0 858.8,74.4 853.5,84.8 C848.2,95.1 842.5,102.4 837.6,111.3 C832.8,120.1 828.6,128.9 824.4,137.8 C820.2,146.6 815.2,152.8 812.4,164.3 C809.6,175.7 808.4,192.1 807.6,206.5 C806.8,220.9 808.2,239.2 807.6,250.7 C807.0,262.2 806.7,269.2 804.0,275.4 C801.4,281.6 795.8,283.0 791.7,287.7 C787.6,292.4 783.1,298.3 779.3,303.6 C775.5,308.9 771.7,314.8 768.7,319.5 C765.8,324.2 763.7,327.7 761.6,331.8 C759.6,336.0 757.5,339.5 756.3,344.2 C755.2,348.9 755.2,355.0 754.9,360.0 C754.6,365.0 754.9,369.8 754.5,374.4 C754.1,379.0 753.5,382.9 752.4,387.6 C751.2,392.2 749.2,397.8 747.5,402.4 C745.8,407.0 744.1,411.6 742.2,415.1 C740.3,418.7 737.9,420.4 736.3,423.6 C734.7,426.8 733.6,430.7 732.7,434.2 C731.7,437.7 732.1,441.4 730.5,444.8 C729.0,448.2 725.1,451.5 723.5,454.3 C722.0,457.2 721.2,459.1 721.0,461.8 C720.8,464.4 731.6,469.0 722.1,470.5 C712.5,471.9 673.5,483.9 663.8,470.5 C654.0,457.0 661.8,403.1 663.8,389.7 C665.7,376.2 672.9,390.4 675.4,389.7 C677.9,389.0 676.7,388.0 678.6,385.4 C680.5,382.9 684.3,378.7 687.1,374.4 C689.9,370.2 691.7,364.2 695.6,360.0 C699.4,355.8 708.2,353.3 710.4,349.5 C712.6,345.7 709.1,341.6 709.0,337.1 C708.9,332.7 709.6,328.3 709.9,323.0 C710.1,317.7 711.1,311.2 710.4,305.3 C709.8,299.4 707.8,293.6 706.0,287.7 C704.2,281.8 700.2,272.0 699.8,270.0 C699.4,268.0 703.9,278.6 703.3,275.4 C702.7,272.2 699.5,262.2 696.3,250.7 C693.0,239.2 687.4,215.3 683.9,206.5 C680.4,197.7 678.3,199.4 675.1,197.7 C671.8,195.9 667.0,222.2 664.5,195.9 C662.0,169.6 625.8,65.6 660.0,40.0Z" fill="#ff5000" stroke="#ff5000" stroke-width="0.6"/><path d="M660.0,40.0 C689.1,18.8 808.0,40.9 837.6,42.3 C867.2,43.8 837.6,44.1 837.6,49.0 C837.6,53.8 839.4,63.3 837.6,71.5 C835.9,79.7 830.6,89.2 827.0,98.0 C823.5,106.8 819.7,115.7 816.4,124.5 C813.1,133.3 810.4,137.4 807.1,151.0 C803.9,164.7 799.0,189.9 797.0,206.5 C795.0,223.1 795.8,239.2 795.2,250.7 C794.6,262.2 795.5,269.2 793.4,275.4 C791.4,281.6 786.4,282.7 782.8,287.7 C779.3,292.7 775.5,299.7 772.2,305.3 C769.0,310.9 766.1,316.2 763.4,321.2 C760.8,326.2 758.1,330.7 756.3,335.4 C754.6,340.1 753.6,345.4 752.8,349.5 C752.0,353.6 751.9,355.8 751.7,360.0 C751.6,364.2 752.1,369.8 751.7,374.4 C751.4,379.0 750.7,382.9 749.6,387.6 C748.6,392.2 747.0,398.0 745.4,402.4 C743.8,406.8 742.4,411.7 740.1,414.1 C737.8,416.5 735.5,416.7 731.6,416.8 C727.7,416.9 721.7,414.4 716.8,414.7 C711.8,414.9 705.5,415.8 701.9,418.3 C698.3,420.8 696.5,426.6 695.1,430.0 C693.8,433.3 693.6,434.9 693.9,438.4 C694.1,442.0 694.7,448.0 696.6,451.2 C698.5,454.3 701.0,455.6 705.1,457.5 C709.2,459.5 718.0,460.7 721.0,462.8 C724.0,465.0 732.7,469.2 723.1,470.5 C713.6,471.7 673.7,481.8 663.8,470.5 C653.9,459.1 661.8,413.7 663.8,402.4 C665.7,391.1 672.6,403.1 675.4,402.4 C678.2,401.7 678.4,400.6 680.7,398.2 C683.0,395.7 686.4,391.5 689.2,387.6 C692.0,383.6 695.2,379.0 697.7,374.4 C700.2,369.8 700.9,364.2 704.0,360.0 C707.2,355.8 714.9,353.3 716.6,349.5 C718.3,345.7 714.7,341.6 714.3,337.1 C713.9,332.7 714.2,328.3 714.3,323.0 C714.4,317.7 715.3,311.2 714.8,305.3 C714.3,299.4 712.6,293.6 711.3,287.7 C710.0,281.8 707.3,272.0 706.9,270.0 C706.4,268.0 709.2,278.6 708.6,275.4 C708.0,272.2 705.7,262.2 703.3,250.7 C701.0,239.2 696.5,217.4 694.5,206.5 C692.5,195.6 693.0,190.1 691.5,185.0 C690.0,179.9 688.2,178.6 685.3,176.1 C682.4,173.6 677.9,171.0 674.2,169.9 C670.5,168.8 665.4,191.1 663.1,169.4 C660.7,147.8 630.9,61.2 660.0,40.0Z" fill="#ff1000" stroke="#ff1000" stroke-width="0.6"/><path d="M660.0,40.0 C685.3,28.5 789.2,40.9 815.1,42.3 C840.9,43.8 814.9,44.1 815.1,49.0 C815.3,53.8 817.1,63.3 816.4,71.5 C815.8,79.7 812.9,89.2 811.1,98.0 C809.4,106.8 807.7,115.7 805.8,124.5 C803.9,133.3 802.4,137.4 799.7,151.0 C797.1,164.7 791.8,189.9 789.9,206.5 C788.0,223.1 788.7,239.2 788.1,250.7 C787.6,262.2 788.1,269.2 786.4,275.4 C784.6,281.6 780.8,282.7 777.5,287.7 C774.3,292.7 770.5,299.4 766.9,305.3 C763.4,311.2 758.8,317.7 756.3,323.0 C753.8,328.3 753.0,332.7 751.9,337.1 C750.8,341.6 750.5,345.7 749.6,349.5 C748.8,353.3 747.2,355.8 746.9,360.0 C746.5,364.2 747.7,369.8 747.5,374.4 C747.3,379.0 746.6,384.0 745.4,387.6 C744.1,391.2 742.0,394.1 740.1,396.0 C738.1,398.0 735.8,399.6 733.7,399.2 C731.6,398.9 729.8,396.6 727.4,393.9 C724.9,391.3 721.2,386.6 718.9,383.3 C716.6,380.1 715.2,378.3 713.6,374.4 C712.0,370.5 707.7,364.2 709.3,360.0 C711.0,355.8 721.6,353.3 723.7,349.5 C725.7,345.7 722.5,341.6 721.9,337.1 C721.3,332.7 720.6,328.3 720.1,323.0 C719.7,317.7 719.7,311.2 719.2,305.3 C718.7,299.4 717.7,293.6 717.1,287.7 C716.5,281.8 715.9,272.0 715.7,270.0 C715.5,268.0 716.3,278.6 715.7,275.4 C715.1,272.2 713.2,262.2 712.2,250.7 C711.1,239.2 710.7,221.0 709.5,206.5 C708.3,192.0 707.5,174.2 705.1,163.7 C702.7,153.3 698.5,150.5 695.2,143.9 C691.9,137.3 688.8,129.5 685.3,124.1 C681.8,118.8 677.9,113.9 674.2,111.8 C670.5,109.6 665.4,123.3 663.1,111.3 C660.7,99.3 634.7,51.5 660.0,40.0Z" fill="#e01010" stroke="#e01010" stroke-width="0.6"/><path d="M660.0,40.0 C682.0,32.2 772.7,40.9 795.2,42.3 C817.8,43.8 795.2,44.1 795.2,49.0 C795.2,53.8 795.3,63.3 795.2,71.5 C795.1,79.7 794.9,89.2 794.7,98.0 C794.5,106.8 794.2,115.7 793.9,124.5 C793.5,133.3 794.4,137.4 792.6,151.0 C790.7,164.7 784.8,189.9 782.8,206.5 C780.9,223.1 781.7,239.2 781.1,250.7 C780.5,262.2 780.8,269.2 779.3,275.4 C777.8,281.6 775.2,282.7 772.2,287.7 C769.3,292.7 765.2,299.4 761.6,305.3 C758.1,311.2 753.4,317.7 751.0,323.0 C748.7,328.3 748.2,332.7 747.5,337.1 C746.8,341.6 747.9,345.7 746.6,349.5 C745.4,353.3 741.3,355.8 740.1,360.0 C738.8,364.2 739.4,370.0 739.0,374.4 C738.6,378.8 738.8,383.6 737.5,386.5 C736.3,389.4 733.6,391.6 731.6,391.8 C729.6,392.0 727.5,390.5 725.2,387.6 C722.9,384.7 719.8,379.0 717.8,374.4 C715.9,369.8 711.6,364.2 713.6,360.0 C715.6,355.8 727.3,353.3 729.8,349.5 C732.4,345.7 729.5,341.6 729.0,337.1 C728.4,332.7 727.2,328.3 726.3,323.0 C725.4,317.7 724.5,311.2 723.7,305.3 C722.8,299.4 721.6,293.6 721.0,287.7 C720.4,281.8 720.1,272.0 720.1,270.0 C720.1,268.0 721.2,278.6 721.0,275.4 C720.9,272.2 719.5,262.2 719.2,250.7 C718.9,239.2 718.1,217.4 719.2,206.5 C720.4,195.6 726.4,193.4 726.1,185.0 C725.8,176.6 720.4,165.2 717.5,156.3 C714.6,147.4 711.7,139.4 708.8,131.6 C705.9,123.7 703.7,115.5 700.2,109.3 C696.7,103.1 692.1,97.8 687.8,94.5 C683.5,91.2 678.3,90.4 674.2,89.5 C670.1,88.6 665.4,97.3 663.1,89.0 C660.7,80.8 638.0,47.8 660.0,40.0Z" fill="#d01c1c" stroke="#d01c1c" stroke-width="0.6"/><path d="M663.8,420.4 C665.7,412.1 671.5,420.1 675.4,420.4 C679.3,420.8 683.9,420.9 687.1,422.5 C690.3,424.1 693.4,426.2 694.5,430.0 C695.6,433.7 693.1,440.9 693.4,444.8 C693.8,448.7 694.9,450.8 696.6,453.3 C698.4,455.8 700.0,457.9 704.0,459.6 C708.1,461.4 717.7,462.1 721.0,463.9 C724.3,465.7 733.1,469.4 723.5,470.5 C714.0,471.5 673.7,478.8 663.8,470.5 C653.8,462.1 661.8,428.8 663.8,420.4Z" fill="#e01010" stroke="#e01010" stroke-width="0.6"/><path d="M706.2,430.0 C708.1,427.1 713.2,424.0 716.8,423.6 C720.3,423.2 725.4,425.0 727.4,427.8 C729.3,430.7 729.5,437.0 728.4,440.6 C727.4,444.1 724.0,447.6 721.0,449.0 C718.0,450.5 713.0,450.5 710.4,449.0 C707.7,447.6 705.8,443.7 705.1,440.6 C704.4,437.4 704.2,432.8 706.2,430.0Z" fill="#ff8000" stroke="#ff8000" stroke-width="0.6"/><path d="M663.8,444.8 C665.7,440.5 671.9,444.4 675.4,444.8 C679.0,445.2 682.3,445.5 685.0,446.9 C687.6,448.3 689.6,451.2 691.3,453.3 C693.1,455.3 692.4,457.9 695.6,459.2 C698.7,460.6 705.7,460.6 710.4,461.3 C715.1,462.1 721.2,462.4 723.5,463.9 C725.8,465.4 734.1,469.4 724.2,470.5 C714.2,471.5 673.8,474.7 663.8,470.5 C653.7,466.2 661.8,449.1 663.8,444.8Z" fill="#d01c1c" stroke="#d01c1c" stroke-width="0.6"/><path d="M660.0,40.0 C676.3,32.8 744.0,40.9 760.8,42.3 C777.6,43.8 761.6,45.0 760.8,49.0 C759.9,53.0 757.7,60.2 755.5,66.2 C753.3,72.2 748.4,79.5 747.5,84.8 C746.6,90.1 747.1,94.9 750.2,98.0 C753.3,101.1 762.1,100.7 766.1,103.3 C770.0,106.0 771.8,109.1 774.0,113.9 C776.2,118.8 778.4,126.3 779.3,132.5 C780.2,138.6 779.5,144.8 779.3,151.0 C779.1,157.2 778.0,163.4 778.0,169.6 C778.0,175.8 779.5,182.0 779.3,188.1 C779.1,194.3 777.5,196.1 776.7,206.5 C775.8,216.9 774.7,239.2 774.0,250.7 C773.3,262.2 774.0,268.4 772.2,275.4 C770.5,282.5 766.9,286.5 763.4,293.0 C759.9,299.4 754.9,309.2 751.0,314.2 C747.2,319.2 742.8,322.1 740.4,323.0 C738.1,323.9 738.2,322.4 736.9,319.5 C735.6,316.5 733.8,310.6 732.5,305.3 C731.2,300.0 729.5,292.7 729.0,287.7 C728.4,282.7 729.1,281.6 729.0,275.4 C728.8,269.2 727.9,262.2 728.1,250.7 C728.2,239.2 728.9,217.4 729.8,206.5 C730.7,195.6 733.1,191.3 733.5,185.0 C734.0,178.7 732.6,174.7 732.8,168.7 C733.0,162.7 733.8,155.1 734.8,148.9 C735.7,142.7 737.7,136.9 738.5,131.6 C739.3,126.2 740.6,121.7 739.7,116.7 C738.9,111.8 736.6,106.2 733.5,101.9 C730.5,97.6 725.9,93.2 721.2,90.8 C716.4,88.3 712.9,87.9 705.1,87.0 C697.3,86.2 681.2,86.0 674.2,85.8 C667.2,85.6 665.4,93.4 663.1,85.8 C660.7,78.2 643.7,47.2 660.0,40.0Z" fill="#f08080" stroke="#f08080" stroke-width="0.6"/><path d="M662.5,464.2 C664.4,463.1 666.3,464.3 674.0,464.2 C681.8,464.1 702.1,463.2 709.1,463.6 C716.1,464.1 715.9,465.8 715.9,466.9 C715.9,468.1 718.0,469.9 709.1,470.5 C700.2,471.1 670.3,471.5 662.5,470.5 C654.8,469.4 660.6,465.2 662.5,464.2Z" fill="#f08080" stroke="#f08080" stroke-width="0.6"/><path d="M660.0,40.0 C671.1,34.4 718.2,41.1 729.8,42.5 C741.5,44.0 730.0,46.2 729.8,48.7 C729.6,51.2 730.0,54.5 728.6,57.4 C727.2,60.3 725.1,63.6 721.2,66.0 C717.3,68.5 712.9,70.6 705.1,72.2 C697.3,73.9 681.2,75.3 674.2,75.9 C667.2,76.5 665.4,81.9 663.1,75.9 C660.7,69.9 648.9,45.6 660.0,40.0Z" fill="#f9b4b4" stroke="#f9b4b4" stroke-width="0.6"/><path d="M758.1,149.7 C755.2,152.3 750.2,162.0 747.5,169.6 C744.9,177.1 743.7,188.9 742.2,195.0 C740.7,201.2 740.1,197.2 738.7,206.5 C737.2,215.8 734.3,239.2 733.4,250.7 C732.5,262.2 733.7,269.2 733.4,275.4 C733.1,281.6 731.2,282.7 731.6,287.7 C732.0,292.7 734.3,301.4 736.0,305.3 C737.8,309.3 740.1,311.5 742.2,311.5 C744.3,311.5 745.4,309.3 748.4,305.3 C751.3,301.4 757.1,292.7 759.9,287.7 C762.7,282.7 763.7,281.6 765.2,275.4 C766.6,269.2 767.8,262.2 768.7,250.7 C769.6,239.2 770.0,215.8 770.5,206.5 C770.9,197.2 771.4,201.2 771.4,195.0 C771.3,188.9 771.1,176.5 770.0,169.6 C768.9,162.7 766.7,157.0 764.7,153.7 C762.8,150.4 761.0,147.0 758.1,149.7Z" fill="#f9b4b4" stroke="#f9b4b4" stroke-width="0.6"/><path d="M662.5,465.3 C664.4,464.5 667.6,465.3 674.0,465.3 C680.4,465.2 695.8,464.6 700.9,465.0 C705.9,465.4 704.1,466.9 704.1,467.7 C704.1,468.6 707.8,469.6 700.9,469.9 C693.9,470.3 668.9,470.7 662.5,469.9 C656.1,469.1 660.6,466.0 662.5,465.3Z" fill="#f9b4b4" stroke="#f9b4b4" stroke-width="0.6"/><path d="M664.5,299.2 C666.2,292.4 671.8,298.9 675.1,299.2 C678.3,299.4 681.7,299.3 683.9,300.9 C686.1,302.5 687.4,305.8 688.3,308.9 C689.2,312.0 689.6,315.9 689.2,319.5 C688.8,323.0 687.1,327.1 685.7,330.1 C684.2,333.0 682.1,335.5 680.4,337.1 C678.6,338.8 677.7,339.3 675.1,339.8 C672.4,340.2 666.2,346.6 664.5,339.8 C662.7,333.0 662.7,305.9 664.5,299.2Z" fill="#ffffff" stroke="#ffffff" stroke-width="0.6"/><path d="M662.5,470.7 L726.9,470.7 L726.9,483.3 L662.5,483.3Z" fill="#ffffff" stroke="#ffffff" stroke-width="0.6"/><path d="M767.9,445.0 C769.3,438.6 770.5,426.8 772.1,420.4 C773.6,414.0 775.7,410.8 777.5,406.7 C779.4,402.6 779.8,398.7 783.0,395.7 C786.2,392.8 791.2,390.9 796.7,388.9 C802.2,386.8 809.5,385.0 815.9,383.4 C822.3,381.8 830.0,379.1 835.0,379.3 C840.1,379.5 844.4,381.1 846.0,384.8 C847.6,388.4 845.5,395.7 844.6,401.2 C843.7,406.7 842.3,412.1 840.5,417.6 C838.7,423.1 835.9,428.6 833.7,434.1 C831.4,439.5 828.2,445.7 826.8,450.5 C825.4,455.3 827.3,459.7 825.4,462.8 C823.6,465.9 822.9,467.9 815.9,469.1 C808.8,470.3 794.0,469.9 783.0,470.2 C772.1,470.5 759.5,470.7 750.1,470.7 C740.8,470.7 730.1,471.8 726.9,470.2 C723.7,468.6 727.1,462.3 731.0,460.9 C734.9,459.4 744.7,461.8 750.1,461.4 C755.6,461.1 760.9,461.4 763.8,458.7 C766.8,456.0 766.6,451.4 767.9,445.0Z" fill="#ffe030" stroke="#ffe030" stroke-width="0.6"/><path d="M774.8,423.1 C776.4,419.0 778.9,414.4 783.0,412.1 C787.1,409.9 794.4,409.4 799.4,409.4 C804.5,409.4 809.5,409.9 813.1,412.1 C816.8,414.4 819.7,419.0 821.3,423.1 C822.9,427.2 823.6,432.7 822.7,436.8 C821.8,440.9 820.2,445.5 815.9,447.7 C811.5,450.0 802.6,450.5 796.7,450.5 C790.8,450.5 784.1,450.0 780.3,447.7 C776.4,445.5 774.3,440.9 773.4,436.8 C772.5,432.7 773.2,427.2 774.8,423.1Z" fill="#ffc010" stroke="#ffc010" stroke-width="0.6"/><path d="M858.8,464.3 C860.6,463.3 867.7,462.7 880.0,462.7 C892.4,462.7 915.4,464.2 933.0,464.3 C950.7,464.5 967.5,464.0 986.0,463.8 C1004.6,463.6 1034.6,461.3 1044.4,463.3 C1054.1,465.2 1054.1,473.4 1044.4,475.5 C1034.6,477.6 1004.6,476.0 986.0,476.0 C967.5,476.0 948.5,475.6 933.0,475.5 C917.6,475.3 903.9,476.0 893.3,474.9 C882.7,473.8 875.2,470.6 869.4,468.8 C863.7,467.1 857.1,465.4 858.8,464.3Z" fill="#ffe030" stroke="#ffe030" stroke-width="0.6"/><path d="M893.3,470.7 C899.0,470.1 917.6,469.7 933.0,469.6 C948.5,469.6 967.5,470.2 986.0,470.2 C1004.6,470.2 1034.6,469.0 1044.4,469.6 C1054.1,470.3 1054.1,473.1 1044.4,473.9 C1034.6,474.6 1004.6,474.1 986.0,474.1 C967.5,474.1 947.6,474.0 933.0,473.9 C918.5,473.7 905.2,473.9 898.6,473.4 C892.0,472.8 887.5,471.3 893.3,470.7Z" fill="#ffc010" stroke="#ffc010" stroke-width="0.6"/><path d="M1044.4,304.0 C1043.3,279.8 1043.0,303.1 1037.7,304.0 C1032.4,304.9 1021.2,307.1 1012.6,309.3 C1003.9,311.5 993.1,314.1 986.0,317.2 C979.0,320.3 973.0,324.4 970.1,327.8 C967.3,331.2 967.1,332.0 968.8,337.7 C970.6,343.3 976.6,353.1 980.7,361.5 C984.9,369.9 991.4,379.2 994.0,388.0 C996.7,396.8 995.8,407.9 996.7,414.5 C997.5,421.1 995.3,423.3 999.3,427.8 C1003.3,432.2 1014.1,437.5 1020.5,441.0 C1026.9,444.6 1033.8,447.6 1037.7,449.0 C1041.7,450.3 1043.3,473.1 1044.4,449.0 C1045.5,424.8 1045.5,328.1 1044.4,304.0Z" fill="#98ceee" stroke="#98ceee" stroke-width="0.6"/><path d="M1044.4,327.8 C1043.3,312.5 1041.7,326.7 1037.7,327.8 C1033.8,328.9 1025.4,332.4 1020.5,334.4 C1015.6,336.5 1011.0,335.8 1008.6,340.3 C1006.1,344.8 1005.9,353.6 1005.9,361.5 C1005.9,369.5 1006.6,379.6 1008.6,388.0 C1010.6,396.4 1013.0,406.6 1017.9,411.9 C1022.7,417.2 1033.3,418.5 1037.7,419.8 C1042.1,421.1 1043.3,435.1 1044.4,419.8 C1045.5,404.5 1045.5,343.2 1044.4,327.8Z" fill="#50b8f0" stroke="#50b8f0" stroke-width="0.6"/><path d="M1044.4,353.6 C1043.3,347.8 1039.5,353.1 1037.7,354.9 C1036.0,356.6 1034.5,360.4 1033.8,364.2 C1033.0,367.9 1032.6,373.4 1033.2,377.4 C1033.9,381.4 1035.9,386.0 1037.7,388.0 C1039.6,390.0 1043.3,395.1 1044.4,389.3 C1045.5,383.6 1045.5,359.3 1044.4,353.6Z" fill="#20a0f0" stroke="#20a0f0" stroke-width="0.6"/><path d="M865.5,425.1 C866.3,421.6 868.3,415.6 872.1,411.9 C875.8,408.1 883.1,403.2 888.0,402.6 C892.8,401.9 896.8,404.6 901.2,407.9 C905.7,411.2 909.2,417.6 914.5,422.5 C919.8,427.3 926.4,435.5 933.0,437.0 C939.7,438.6 945.4,432.4 954.2,431.7 C963.1,431.1 979.9,431.5 986.0,433.1 C992.2,434.6 992.2,437.9 991.4,441.0 C990.5,444.1 987.8,450.3 980.7,451.6 C973.7,452.9 958.7,449.9 948.9,449.0 C939.2,448.0 930.4,446.2 922.4,445.8 C914.5,445.3 908.3,447.1 901.2,446.3 C894.2,445.5 885.8,443.2 880.0,441.0 C874.3,438.8 869.2,435.7 866.8,433.1 C864.4,430.4 864.6,428.6 865.5,425.1Z" fill="#98ceee" stroke="#98ceee" stroke-width="0.6"/><path d="M770.0,357.5 C770.3,355.0 772.0,353.7 774.0,353.0 C776.0,352.4 780.2,352.6 782.0,353.6 C783.7,354.5 785.1,356.6 784.6,358.9 C784.2,361.1 781.3,365.3 779.3,366.8 C777.3,368.4 774.2,369.7 772.7,368.1 C771.1,366.6 769.8,360.0 770.0,357.5Z" fill="#98ceee" stroke="#98ceee" stroke-width="0.6"/></g>
<g stroke="#d0d0d0" stroke-opacity="0.85" stroke-width="2.3" stroke-linecap="round" stroke-dasharray="0.1,5.25" fill="none"><line x1="732.9" y1="47.7" x2="732.9" y2="481.5"/><line x1="794.5" y1="47.7" x2="794.5" y2="481.5"/><line x1="856.2" y1="47.7" x2="856.2" y2="481.5"/><line x1="917.9" y1="47.7" x2="917.9" y2="481.5"/><line x1="979.5" y1="47.7" x2="979.5" y2="481.5"/><line x1="671.2" y1="85.7" x2="1041.2" y2="85.7"/><line x1="671.2" y1="145.7" x2="1041.2" y2="145.7"/><line x1="671.2" y1="192.3" x2="1041.2" y2="192.3"/><line x1="671.2" y1="230.3" x2="1041.2" y2="230.3"/><line x1="671.2" y1="290.3" x2="1041.2" y2="290.3"/><line x1="671.2" y1="336.9" x2="1041.2" y2="336.9"/><line x1="671.2" y1="374.9" x2="1041.2" y2="374.9"/><line x1="671.2" y1="407.1" x2="1041.2" y2="407.1"/><line x1="671.2" y1="434.9" x2="1041.2" y2="434.9"/><line x1="671.2" y1="459.5" x2="1041.2" y2="459.5"/></g>
<path d="M880.0,64.9 C885.3,63.4 900.8,58.8 911.8,56.1 C922.9,53.5 938.3,50.6 946.3,49.0 C954.2,47.3 957.3,46.8 959.5,46.3" fill="none" stroke="#000" stroke-width="2.6" stroke-linecap="butt"/><text transform="translate(845.6,75.5) rotate(-33)" font-size="24" text-anchor="middle" dy="0.36em">362</text><path d="M811.1,99.3 C807.1,102.9 795.7,112.8 787.3,120.5 C778.9,128.3 769.6,137.5 760.8,145.7 C751.9,153.9 740.3,163.9 734.3,169.6 C728.2,175.3 728.8,175.3 724.5,180.0 C720.3,184.7 713.6,191.5 708.6,197.7 C703.6,203.9 698.0,211.2 694.5,217.1 C691.0,223.0 688.9,228.1 687.4,233.0 C686.0,237.9 684.5,241.2 685.7,246.3 C686.8,251.3 691.7,257.4 694.5,263.0 C697.3,268.7 700.5,275.9 702.5,280.0 C704.4,284.1 704.8,283.4 706.0,287.7 C707.2,291.9 708.9,299.4 709.5,305.3 C710.1,311.2 710.6,317.1 709.5,323.0 C708.5,328.9 704.4,336.5 703.3,340.7 C702.3,344.8 702.9,345.1 703.3,347.7 C703.8,350.4 704.5,352.9 706.0,356.6 C707.5,360.3 707.0,365.2 712.2,370.0 C717.3,374.8 730.6,379.7 736.9,385.4 C743.2,391.0 746.2,397.7 750.2,403.9 C754.1,410.1 756.8,416.3 760.8,422.5 C764.7,428.6 768.7,435.3 774.0,441.0 C779.3,446.8 785.5,452.5 792.6,456.9 C799.6,461.3 806.3,464.9 816.4,467.5 C826.6,470.2 842.5,471.6 853.5,472.8 C864.6,474.1 877.8,474.6 882.7,474.9" fill="none" stroke="#000" stroke-width="2.6" stroke-linecap="butt"/><path d="M1037.7,94.0 C1031.3,95.8 1012.3,100.7 999.3,104.6 C986.3,108.6 975.0,111.0 959.5,117.9 C944.1,124.7 921.6,136.7 906.5,145.7 C891.5,154.8 876.8,166.5 869.4,172.2 C862.1,177.9 867.6,175.2 862.3,180.0 C857.0,184.8 846.4,194.7 837.6,201.2 C828.8,207.7 817.0,213.9 809.3,218.9 C801.7,223.9 796.7,226.5 791.7,231.2 C786.7,235.9 782.3,241.8 779.3,247.1 C776.4,252.4 774.9,259.2 774.0,263.0 C773.1,266.8 773.4,265.9 774.0,270.0 C774.6,274.1 776.5,280.3 777.5,287.7 C778.6,295.0 780.5,306.8 780.2,314.2 C779.9,321.5 777.4,326.5 775.8,331.8 C774.2,337.1 771.8,341.0 770.5,346.0 C769.1,351.0 768.2,359.3 767.8,361.9 C767.4,364.5 767.8,358.5 768.2,361.5 C768.6,364.5 768.6,373.9 770.0,380.1 C771.5,386.2 774.0,393.5 776.7,398.6 C779.3,403.7 782.3,407.2 785.9,410.5 C789.6,413.9 796.3,417.4 798.4,418.8" fill="none" stroke="#000" stroke-width="2.6" stroke-linecap="butt"/><text transform="translate(823.0,429.1) rotate(32)" font-size="24" text-anchor="middle" dy="0.36em">358</text><path d="M844.3,446.3 C847.6,448.3 856.0,455.2 864.1,458.2 C872.3,461.3 877.4,463.1 893.3,464.9 C909.2,466.6 935.5,467.7 959.5,468.8 C983.6,470.0 1024.7,471.3 1037.7,471.8" fill="none" stroke="#000" stroke-width="2.6" stroke-linecap="butt"/><path d="M674.6,434.4 C678.8,433.8 692.3,432.0 699.8,430.9 C707.3,429.9 716.4,428.7 719.7,428.3" fill="none" stroke="#000" stroke-width="2.6" stroke-linecap="butt"/><path d="M747.5,458.2 C748.2,459.6 749.5,464.0 751.5,466.2 C753.5,468.4 753.9,469.9 759.4,471.5 C765.0,473.1 780.4,475.0 784.6,475.7" fill="none" stroke="#000" stroke-width="2.6" stroke-linecap="butt"/><text transform="translate(744.9,441.5) rotate(55)" font-size="24" text-anchor="middle" dy="0.36em">366</text><path d="M674.6,345.6 C675.7,346.0 679.6,346.5 681.3,348.3 C682.9,350.0 684.5,353.6 684.7,356.2 C684.9,358.9 684.3,361.9 682.6,364.2 C680.9,366.4 676.0,368.6 674.6,369.5" fill="none" stroke="#000" stroke-width="2.6" stroke-linecap="butt"/><path d="M1037.7,239.8 C1033.5,241.2 1021.2,245.1 1012.6,248.3 C1003.9,251.5 994.0,254.9 986.0,258.9 C978.1,262.9 970.6,267.3 964.8,272.2 C959.1,277.0 955.6,282.8 951.6,288.1 C947.6,293.4 945.4,298.2 941.0,304.0 C936.6,309.7 930.8,317.4 925.1,322.5 C919.3,327.6 912.3,331.5 906.5,334.4 C900.8,337.4 896.8,338.0 890.6,340.3 C884.5,342.6 875.6,345.4 869.4,348.3 C863.2,351.1 856.7,354.0 853.5,357.5 C850.3,361.1 850.6,365.3 850.3,369.5 C850.1,373.7 849.9,377.8 852.2,382.7 C854.5,387.6 859.5,393.3 864.1,398.6 C868.8,403.9 874.7,409.7 880.0,414.5 C885.3,419.4 890.6,424.5 895.9,427.8 C901.2,431.1 905.7,432.4 911.8,434.4 C918.0,436.4 929.5,439.0 933.0,440.0" fill="none" stroke="#000" stroke-width="2.6" stroke-linecap="butt"/><text transform="translate(962.2,445.0) rotate(15)" font-size="24" text-anchor="middle" dy="0.36em">354</text><path d="M994.0,454.3 C997.1,455.1 1005.3,457.8 1012.6,459.0 C1019.8,460.3 1033.5,461.2 1037.7,461.7" fill="none" stroke="#000" stroke-width="2.6" stroke-linecap="butt"/><text x="705" y="90" font-size="41" font-weight="bold" text-anchor="middle" class="w" stroke-linejoin="round" fill="#fff">b</text><text x="705" y="90" font-size="41" font-weight="bold" text-anchor="middle" fill="#000" class="nb">b</text>
</g>

<rect x="671.2" y="47.7" width="370.0" height="433.8" fill="none" stroke="#000" stroke-width="2" stroke-linejoin="miter"/>
<g stroke="#000" stroke-width="2"><line x1="671.2" y1="481.5" x2="671.2" y2="490.5"/><line x1="732.9" y1="481.5" x2="732.9" y2="490.5"/><line x1="794.5" y1="481.5" x2="794.5" y2="490.5"/><line x1="856.2" y1="481.5" x2="856.2" y2="490.5"/><line x1="917.9" y1="481.5" x2="917.9" y2="490.5"/><line x1="979.5" y1="481.5" x2="979.5" y2="490.5"/><line x1="1041.2" y1="481.5" x2="1041.2" y2="490.5"/><line x1="671.2" y1="85.7" x2="662.2" y2="85.7"/><line x1="671.2" y1="145.7" x2="662.2" y2="145.7"/><line x1="671.2" y1="192.3" x2="662.2" y2="192.3"/><line x1="671.2" y1="230.3" x2="662.2" y2="230.3"/><line x1="671.2" y1="290.3" x2="662.2" y2="290.3"/><line x1="671.2" y1="336.9" x2="662.2" y2="336.9"/><line x1="671.2" y1="374.9" x2="662.2" y2="374.9"/><line x1="671.2" y1="407.1" x2="662.2" y2="407.1"/><line x1="671.2" y1="434.9" x2="662.2" y2="434.9"/><line x1="671.2" y1="459.5" x2="662.2" y2="459.5"/><line x1="671.2" y1="481.5" x2="662.2" y2="481.5"/></g>
<g font-size="24" fill="#000"><text x="671.2" y="518.5" text-anchor="middle">0</text><text x="732.9" y="518.5" text-anchor="middle">50</text><text x="794.5" y="518.5" text-anchor="middle">100</text><text x="856.2" y="518.5" text-anchor="middle">150</text><text x="917.9" y="518.5" text-anchor="middle">200</text><text x="979.5" y="518.5" text-anchor="middle">250</text><text x="1041.2" y="518.5" text-anchor="middle">300</text></g>
<text x="768.4" y="558.3" font-size="27.6" textLength="175.5" lengthAdjust="spacingAndGlyphs">Radius [km]</text>
<text x="734.3" y="29.4" font-size="33" font-style="italic" textLength="50.5" lengthAdjust="spacingAndGlyphs">θe'</text>
<text x="798.8" y="29.4" font-size="33" textLength="62" lengthAdjust="spacingAndGlyphs">and</text>
<text x="874" y="29.4" font-size="33" font-style="italic" textLength="40" lengthAdjust="spacingAndGlyphs">θe</text>
<text x="916.5" y="35.6" font-size="23" font-style="italic" textLength="60" lengthAdjust="spacingAndGlyphs">CTRL</text>
<rect x="1071.1" y="441.81" width="14.8" height="20.29" fill="#6020e0"/><rect x="1071.1" y="422.13" width="14.8" height="20.29" fill="#1414f5"/><rect x="1071.1" y="402.44" width="14.8" height="20.29" fill="#2838f0"/><rect x="1071.1" y="382.76" width="14.8" height="20.29" fill="#4868e0"/><rect x="1071.1" y="363.07" width="14.8" height="20.29" fill="#3080f0"/><rect x="1071.1" y="343.39" width="14.8" height="20.29" fill="#2088f0"/><rect x="1071.1" y="323.70" width="14.8" height="20.29" fill="#20a0f0"/><rect x="1071.1" y="304.02" width="14.8" height="20.29" fill="#50b8f0"/><rect x="1071.1" y="284.33" width="14.8" height="20.29" fill="#98ceee"/><rect x="1071.1" y="264.65" width="14.8" height="20.29" fill="#ffffff"/><rect x="1071.1" y="244.96" width="14.8" height="20.29" fill="#ffffff"/><rect x="1071.1" y="225.28" width="14.8" height="20.29" fill="#ffe030"/><rect x="1071.1" y="205.59" width="14.8" height="20.29" fill="#ffc010"/><rect x="1071.1" y="185.91" width="14.8" height="20.29" fill="#ffa000"/><rect x="1071.1" y="166.22" width="14.8" height="20.29" fill="#ff8000"/><rect x="1071.1" y="146.54" width="14.8" height="20.29" fill="#ff5000"/><rect x="1071.1" y="126.85" width="14.8" height="20.29" fill="#ff1000"/><rect x="1071.1" y="107.17" width="14.8" height="20.29" fill="#e01010"/><rect x="1071.1" y="87.48" width="14.8" height="20.29" fill="#d01c1c"/><rect x="1071.1" y="67.80" width="14.8" height="20.29" fill="#f08080"/><path d="M1071.1,68.39999999999999 L1078.5,47.2 L1085.9,68.39999999999999Z" fill="#f9b4b4"/><path d="M1071.1,461.5 L1078.5,482.8 L1085.9,461.5Z" fill="#7828e8"/><path d="M1071.1,68.1 L1078.5,47.2 L1085.9,68.1 L1085.9,461.8 L1078.5,482.8 L1071.1,461.8Z" fill="none" stroke="#000" stroke-width="2" stroke-linejoin="miter"/>
<g stroke="#000" stroke-width="2"><line x1="1085.9" y1="68.1" x2="1094.9" y2="68.1"/><line x1="1085.9" y1="107.5" x2="1094.9" y2="107.5"/><line x1="1085.9" y1="146.8" x2="1094.9" y2="146.8"/><line x1="1085.9" y1="186.2" x2="1094.9" y2="186.2"/><line x1="1085.9" y1="225.6" x2="1094.9" y2="225.6"/><line x1="1085.9" y1="265.0" x2="1094.9" y2="265.0"/><line x1="1085.9" y1="304.3" x2="1094.9" y2="304.3"/><line x1="1085.9" y1="343.7" x2="1094.9" y2="343.7"/><line x1="1085.9" y1="383.1" x2="1094.9" y2="383.1"/><line x1="1085.9" y1="422.4" x2="1094.9" y2="422.4"/><line x1="1085.9" y1="461.8" x2="1094.9" y2="461.8"/></g>
<g font-size="24" fill="#000"><text x="1105.3" y="77.8">6.0</text><text x="1105.3" y="117.2">4.8</text><text x="1105.3" y="156.5">3.6</text><text x="1105.3" y="195.9">2.4</text><text x="1105.3" y="235.3">1.2</text><text x="1105.3" y="274.7">0.0</text><text x="1105.3" y="314.0">−1.2</text><text x="1105.3" y="353.4">−2.4</text><text x="1105.3" y="392.8">−3.6</text><text x="1105.3" y="432.1">−4.8</text><text x="1105.3" y="471.5">−6.0</text></g>
<text x="1067.7" y="31.9" font-size="19.5" textLength="29.5" lengthAdjust="spacingAndGlyphs">[K]</text>
<g clip-path="url(#cl2)">
<clipPath id="dc2"><rect x="1231.0" y="47.7" width="366.20000000000005" height="433.8"/></clipPath><g clip-path="url(#dc2)"><path d="M1334.0,78.1 C1336.2,78.1 1338.4,77.5 1342.0,82.1 C1345.5,86.7 1350.8,96.7 1355.2,106.0 C1359.6,115.2 1364.5,128.0 1368.5,137.8 C1372.4,147.5 1376.0,155.9 1379.1,164.3 C1382.2,172.7 1385.7,183.8 1387.0,188.1 C1388.3,192.4 1384.4,188.4 1387.0,190.0 C1389.7,191.6 1397.6,194.4 1402.9,198.0 C1408.2,201.5 1413.5,206.8 1418.8,211.2 C1424.1,215.6 1430.5,219.2 1434.7,224.5 C1438.9,229.8 1442.5,237.7 1444.0,243.0 C1445.6,248.3 1444.7,251.8 1444.0,256.3 C1443.3,260.7 1441.1,264.2 1440.0,269.5 C1438.9,274.8 1437.6,282.3 1437.4,288.1 C1437.2,293.8 1439.6,299.6 1438.7,304.0 C1437.8,308.4 1435.0,310.6 1432.1,314.6 C1429.2,318.5 1425.5,324.0 1421.5,327.8 C1417.5,331.7 1411.8,333.8 1408.2,337.7 C1404.7,341.5 1402.0,346.9 1400.3,350.9 C1398.5,354.9 1396.7,358.0 1397.6,361.5 C1398.5,365.0 1403.4,368.6 1405.6,372.1 C1407.8,375.6 1410.4,377.8 1410.9,382.7 C1411.3,387.6 1410.0,395.1 1408.2,401.3 C1406.5,407.4 1402.9,414.1 1400.3,419.8 C1397.6,425.6 1394.5,430.9 1392.3,435.7 C1390.1,440.6 1388.8,445.0 1387.0,449.0 C1385.3,452.9 1387.0,456.3 1381.7,459.6 C1376.4,462.9 1367.6,466.9 1355.2,468.8 C1342.9,470.8 1327.6,471.2 1307.5,471.5 C1287.4,471.8 1248.8,470.8 1234.6,470.7 C1220.5,470.6 1224.7,483.8 1222.7,470.7 C1220.7,457.6 1220.7,405.1 1222.7,392.0 C1224.7,378.9 1228.7,392.4 1234.6,392.0 C1240.6,391.5 1252.7,391.5 1258.5,389.3 C1264.2,387.1 1266.0,384.3 1269.1,378.7 C1272.2,373.2 1275.0,363.5 1277.0,356.2 C1279.0,348.9 1279.4,340.6 1281.0,335.0 C1282.6,329.4 1285.8,329.0 1286.8,322.5 C1287.9,316.0 1287.1,304.9 1287.2,296.0 C1287.4,287.2 1287.2,278.3 1287.6,269.5 C1288.1,260.7 1288.8,251.8 1289.9,243.0 C1291.0,234.2 1292.9,222.7 1294.3,216.5 C1295.7,210.3 1296.5,210.3 1298.2,205.9 C1300.0,201.5 1302.9,195.6 1304.9,190.0 C1306.8,184.4 1308.4,179.6 1310.2,172.2 C1311.9,164.8 1313.5,155.9 1315.5,145.7 C1317.5,135.6 1319.9,121.9 1322.1,111.3 C1324.3,100.7 1326.7,87.6 1328.7,82.1 C1330.7,76.6 1331.8,78.1 1334.0,78.1Z" fill="#ffe030" stroke="#ffe030" stroke-width="0.6"/><path d="M1335.3,92.7 C1338.2,91.4 1340.9,96.7 1344.6,103.3 C1348.4,109.9 1353.9,122.7 1357.9,132.5 C1361.8,142.2 1365.4,152.8 1368.5,161.6 C1371.6,170.5 1374.7,180.7 1376.4,185.5 C1378.2,190.2 1376.4,186.6 1379.1,190.0 C1381.7,193.4 1388.3,200.6 1392.3,205.9 C1396.3,211.2 1400.3,215.6 1402.9,221.8 C1405.6,228.0 1406.9,235.1 1408.2,243.0 C1409.6,251.0 1410.9,261.6 1410.9,269.5 C1410.9,277.5 1409.1,284.1 1408.2,290.7 C1407.3,297.3 1407.3,303.1 1405.6,309.3 C1403.8,315.5 1402.4,324.4 1397.6,327.8 C1392.8,331.3 1380.7,327.5 1376.8,330.0 C1372.9,332.5 1375.7,338.5 1374.2,342.8 C1372.8,347.1 1369.1,350.1 1367.8,355.6 C1366.6,361.1 1365.5,370.5 1366.6,376.1 C1367.6,381.6 1370.8,385.5 1374.2,388.9 C1377.7,392.3 1384.5,392.3 1387.0,396.6 C1389.6,400.8 1389.4,408.5 1389.6,414.5 C1389.8,420.5 1389.6,426.4 1388.3,432.4 C1387.0,438.4 1385.6,445.2 1381.9,450.3 C1378.3,455.4 1373.8,459.9 1366.6,463.1 C1359.3,466.3 1348.2,468.4 1338.4,469.5 C1328.6,470.7 1319.3,469.8 1307.5,469.9 C1295.7,470.1 1279.9,470.3 1267.8,470.4 C1255.6,470.6 1242.1,470.7 1234.6,470.7 C1227.1,470.7 1224.7,483.2 1222.7,470.7 C1220.7,458.2 1220.7,408.0 1222.7,395.4 C1224.7,382.9 1228.4,396.0 1234.6,395.4 C1240.9,394.9 1253.9,394.6 1260.3,392.0 C1266.7,389.3 1269.7,385.5 1273.1,379.5 C1276.4,373.6 1278.8,363.6 1280.5,356.2 C1282.2,348.8 1281.8,340.6 1283.1,335.0 C1284.5,329.4 1287.5,329.0 1288.4,322.5 C1289.4,316.0 1288.8,304.9 1289.0,296.0 C1289.1,287.2 1288.9,278.3 1289.5,269.5 C1290.1,260.7 1291.1,251.8 1292.4,243.0 C1293.7,234.2 1293.4,228.3 1297.4,216.5 C1301.5,204.7 1312.9,184.0 1316.8,172.2 C1320.7,160.4 1319.0,155.9 1320.8,145.7 C1322.5,135.6 1325.0,120.1 1327.4,111.3 C1329.8,102.4 1332.5,94.0 1335.3,92.7Z" fill="#ffc010" stroke="#ffc010" stroke-width="0.6"/><path d="M1335.3,107.3 C1337.6,105.5 1340.2,108.8 1343.3,113.9 C1346.4,119.0 1350.8,129.8 1353.9,137.8 C1357.0,145.7 1359.6,154.1 1361.8,161.6 C1364.1,169.1 1365.6,178.1 1367.1,182.8 C1368.7,187.6 1369.6,184.4 1371.1,190.0 C1372.7,195.6 1374.2,209.4 1376.4,216.5 C1378.6,223.6 1382.2,226.7 1384.4,232.4 C1386.6,238.1 1388.3,244.8 1389.7,251.0 C1391.0,257.1 1392.1,262.9 1392.3,269.5 C1392.5,276.1 1392.1,284.1 1391.0,290.7 C1389.9,297.3 1387.7,303.1 1385.7,309.3 C1383.7,315.5 1384.2,324.4 1379.1,327.8 C1374.0,331.3 1359.7,327.9 1355.0,330.0 C1350.4,332.1 1353.6,336.4 1351.2,340.2 C1348.9,344.1 1343.7,348.3 1341.0,353.0 C1338.2,357.7 1335.8,363.3 1334.6,368.4 C1333.3,373.5 1330.5,380.1 1333.3,383.8 C1336.1,387.4 1345.4,387.6 1351.2,390.2 C1357.0,392.7 1364.6,394.2 1367.8,399.1 C1371.0,404.0 1370.2,413.2 1370.4,419.6 C1370.6,426.0 1370.2,432.0 1369.1,437.5 C1368.1,443.1 1367.0,448.6 1364.0,452.9 C1361.0,457.2 1357.6,460.6 1351.2,463.1 C1344.8,465.7 1332.9,467.3 1325.6,468.2 C1318.3,469.2 1317.2,468.3 1307.5,468.6 C1297.9,468.9 1279.9,469.8 1267.8,470.2 C1255.6,470.5 1242.1,470.6 1234.6,470.7 C1227.1,470.8 1224.7,482.7 1222.7,470.7 C1220.7,458.7 1220.7,410.6 1222.7,398.6 C1224.7,386.6 1231.1,398.7 1234.6,398.6 C1238.2,398.5 1239.3,398.7 1243.9,398.1 C1248.5,397.4 1256.7,397.6 1262.5,394.6 C1268.2,391.6 1274.7,386.5 1278.4,380.1 C1282.0,373.7 1283.0,363.7 1284.2,356.2 C1285.4,348.7 1284.8,340.6 1285.8,335.0 C1286.8,329.4 1289.2,329.0 1290.0,322.5 C1290.8,316.0 1290.4,304.9 1290.5,296.0 C1290.7,287.2 1290.4,278.3 1291.1,269.5 C1291.8,260.7 1293.2,251.8 1294.8,243.0 C1296.4,234.2 1296.3,227.4 1300.6,216.5 C1305.0,205.6 1316.7,188.4 1320.8,177.5 C1324.8,166.6 1323.2,159.9 1324.7,151.0 C1326.3,142.2 1328.3,131.8 1330.0,124.5 C1331.8,117.2 1333.1,109.1 1335.3,107.3Z" fill="#ffa000" stroke="#ffa000" stroke-width="0.6"/><path d="M1335.3,127.2 C1337.2,125.8 1339.5,128.0 1342.0,132.5 C1344.4,136.9 1347.5,146.6 1349.9,153.7 C1352.3,160.7 1354.8,168.8 1356.5,174.9 C1358.3,180.9 1359.4,183.1 1360.5,190.0 C1361.6,196.9 1361.4,207.7 1363.2,216.5 C1364.9,225.3 1368.9,234.2 1371.1,243.0 C1373.3,251.8 1375.8,261.6 1376.4,269.5 C1377.1,277.5 1376.2,284.1 1375.1,290.7 C1374.0,297.3 1371.3,303.1 1369.8,309.3 C1368.3,315.5 1370.2,324.4 1365.8,327.8 C1361.4,331.3 1348.1,327.5 1343.5,330.0 C1339.0,332.5 1340.3,338.5 1338.4,342.8 C1336.5,347.1 1333.7,349.2 1332.0,355.6 C1330.3,362.0 1328.9,372.7 1328.2,381.2 C1327.4,389.7 1327.4,398.3 1327.6,406.8 C1327.9,415.3 1329.8,424.7 1329.4,432.4 C1329.1,440.1 1327.9,447.3 1325.6,452.9 C1323.3,458.4 1319.3,463.4 1315.4,465.7 C1311.5,468.0 1310.1,466.0 1302.2,466.7 C1294.3,467.4 1279.0,469.2 1267.8,469.9 C1256.5,470.6 1242.1,470.6 1234.6,470.7 C1227.1,470.8 1224.7,480.1 1222.7,470.7 C1220.7,461.3 1220.7,423.9 1222.7,414.5 C1224.7,405.1 1230.2,415.0 1234.6,414.5 C1239.0,414.1 1244.1,414.1 1249.2,411.9 C1254.3,409.7 1259.8,406.3 1265.1,401.3 C1270.4,396.2 1277.6,388.9 1281.0,381.4 C1284.5,373.9 1284.7,363.9 1285.8,356.2 C1286.8,348.5 1286.4,340.6 1287.4,335.0 C1288.3,329.4 1290.8,329.0 1291.6,322.5 C1292.4,316.0 1292.1,304.9 1292.3,296.0 C1292.5,287.2 1292.1,278.3 1292.9,269.5 C1293.8,260.7 1295.5,251.8 1297.3,243.0 C1299.1,234.2 1298.8,229.6 1303.8,216.5 C1308.8,203.4 1322.9,177.0 1327.4,164.3 C1331.9,151.6 1329.5,146.6 1330.8,140.4 C1332.2,134.2 1333.5,128.5 1335.3,127.2Z" fill="#ff8000" stroke="#ff8000" stroke-width="0.6"/><path d="M1335.3,144.4 C1336.9,143.1 1338.7,144.6 1340.6,148.4 C1342.6,152.1 1345.3,160.3 1347.3,166.9 C1349.3,173.5 1351.2,184.3 1352.6,188.1 C1353.9,192.0 1354.8,185.3 1355.2,190.0 C1355.7,194.7 1354.3,207.7 1355.2,216.5 C1356.1,225.3 1359.2,234.2 1360.5,243.0 C1361.8,251.8 1363.0,260.7 1363.2,269.5 C1363.4,278.3 1362.7,288.1 1361.8,296.0 C1361.0,304.0 1362.2,311.6 1357.9,317.2 C1353.5,322.9 1340.4,325.7 1335.8,330.0 C1331.3,334.3 1332.2,338.5 1330.7,342.8 C1329.2,347.1 1328.2,347.1 1326.9,355.6 C1325.6,364.1 1324.5,383.3 1323.0,394.0 C1321.5,404.7 1319.6,411.9 1317.9,419.6 C1316.2,427.3 1314.1,436.1 1312.8,440.1 C1311.5,444.1 1314.1,441.3 1310.2,443.7 C1306.2,446.0 1293.6,450.5 1289.0,454.3 C1284.3,458.0 1285.9,463.6 1282.3,466.2 C1278.8,468.8 1275.7,468.9 1267.8,469.6 C1259.8,470.4 1242.1,470.5 1234.6,470.7 C1227.1,470.9 1224.7,475.2 1222.7,470.7 C1220.7,466.2 1220.7,448.2 1222.7,443.7 C1224.7,439.2 1229.3,444.3 1234.6,443.7 C1239.9,443.0 1249.0,442.3 1254.5,439.7 C1260.0,437.0 1262.7,434.2 1267.8,427.8 C1272.8,421.4 1281.5,410.1 1285.0,401.3 C1288.4,392.4 1287.6,382.3 1288.4,374.8 C1289.3,367.2 1289.6,362.8 1290.0,356.2 C1290.5,349.6 1290.5,340.6 1291.1,335.0 C1291.6,329.4 1292.7,329.0 1293.2,322.5 C1293.7,316.0 1293.7,304.9 1294.0,296.0 C1294.3,287.2 1293.8,278.3 1294.8,269.5 C1295.8,260.7 1297.8,251.8 1299.8,243.0 C1301.9,234.2 1302.3,227.4 1307.0,216.5 C1311.7,205.6 1324.1,187.6 1328.2,177.5 C1332.2,167.5 1330.2,161.8 1331.4,156.3 C1332.6,150.8 1333.8,145.7 1335.3,144.4Z" fill="#ff5000" stroke="#ff5000" stroke-width="0.6"/><path d="M1335.3,159.0 C1336.7,158.1 1338.3,160.7 1339.8,164.3 C1341.4,167.8 1343.2,175.9 1344.6,180.2 C1346.1,184.5 1347.5,183.9 1348.6,190.0 C1349.7,196.1 1350.1,207.7 1351.2,216.5 C1352.3,225.3 1354.1,234.2 1355.2,243.0 C1356.3,251.8 1357.6,260.7 1357.9,269.5 C1358.1,278.3 1357.4,287.2 1356.5,296.0 C1355.7,304.9 1355.9,316.0 1352.6,322.5 C1349.3,329.0 1341.0,330.6 1336.7,335.0 C1332.3,339.4 1328.9,344.0 1326.6,348.8 C1324.3,353.6 1323.9,357.6 1322.9,363.6 C1321.9,369.6 1321.6,377.8 1320.8,384.8 C1319.9,391.9 1318.5,400.2 1317.6,406.0 C1316.7,411.9 1316.9,415.1 1315.5,420.1 C1314.1,425.0 1311.8,431.6 1309.1,435.7 C1306.5,439.9 1302.3,443.4 1299.6,445.0 C1296.8,446.5 1294.2,445.7 1292.7,445.0 C1291.2,444.3 1290.9,446.1 1290.5,441.0 C1290.2,435.9 1290.6,425.6 1290.5,414.5 C1290.5,403.5 1289.8,384.5 1290.0,374.8 C1290.2,365.0 1291.2,362.8 1291.6,356.2 C1292.0,349.6 1291.9,340.6 1292.4,335.0 C1292.9,329.4 1294.2,329.0 1294.8,322.5 C1295.4,316.0 1295.5,304.9 1295.9,296.0 C1296.2,287.2 1295.8,278.3 1296.9,269.5 C1298.0,260.7 1300.3,251.8 1302.5,243.0 C1304.7,234.2 1305.3,228.7 1310.2,216.5 C1315.1,204.3 1327.7,179.2 1331.9,169.6 C1336.1,160.0 1334.0,159.9 1335.3,159.0Z" fill="#ff1000" stroke="#ff1000" stroke-width="0.6"/><path d="M1336.7,172.2 C1337.9,171.8 1339.3,177.2 1340.6,180.2 C1342.0,183.1 1343.5,183.9 1344.6,190.0 C1345.7,196.1 1346.2,207.7 1347.3,216.5 C1348.4,225.3 1350.1,234.2 1351.2,243.0 C1352.3,251.8 1353.7,260.7 1353.9,269.5 C1354.1,278.3 1353.5,287.2 1352.6,296.0 C1351.7,304.9 1351.9,316.0 1348.6,322.5 C1345.3,329.0 1337.2,330.6 1333.0,335.0 C1328.8,339.4 1325.4,344.0 1323.4,348.8 C1321.4,353.6 1321.6,357.6 1320.8,363.6 C1320.0,369.6 1319.5,377.8 1318.6,384.8 C1317.8,391.9 1316.5,400.2 1315.5,406.0 C1314.4,411.9 1313.9,415.4 1312.3,420.1 C1310.7,424.8 1308.4,430.7 1305.9,434.4 C1303.4,438.1 1299.6,441.0 1297.4,442.3 C1295.3,443.7 1294.2,442.8 1293.2,442.3 C1292.2,441.9 1291.9,444.3 1291.6,439.7 C1291.3,435.1 1291.7,425.3 1291.6,414.5 C1291.6,403.7 1291.2,384.5 1291.3,374.8 C1291.5,365.0 1292.3,362.8 1292.7,356.2 C1293.0,349.6 1292.8,340.6 1293.5,335.0 C1294.1,329.4 1295.7,329.0 1296.4,322.5 C1297.1,316.0 1297.3,304.9 1297.7,296.0 C1298.1,287.2 1297.8,278.3 1299.0,269.5 C1300.3,260.7 1302.7,251.8 1305.1,243.0 C1307.5,234.2 1308.6,226.5 1313.3,216.5 C1318.1,206.5 1329.6,190.2 1333.5,182.8 C1337.4,175.4 1335.5,172.7 1336.7,172.2Z" fill="#e01010" stroke="#e01010" stroke-width="0.6"/><path d="M1331.4,195.8 C1335.4,194.1 1338.4,202.5 1340.6,205.9 C1342.9,209.3 1343.3,210.3 1344.6,216.5 C1345.9,222.7 1347.6,234.2 1348.6,243.0 C1349.6,251.8 1350.4,260.7 1350.4,269.5 C1350.4,278.3 1349.6,287.2 1348.6,296.0 C1347.6,304.9 1347.8,315.8 1344.6,322.5 C1341.4,329.2 1333.2,331.7 1329.2,336.1 C1325.3,340.4 1322.6,344.2 1320.8,348.8 C1318.9,353.4 1318.9,357.6 1318.1,363.6 C1317.3,369.6 1317.0,378.5 1316.0,384.8 C1315.0,391.2 1313.6,395.9 1312.3,401.8 C1311.0,407.7 1309.5,414.9 1308.0,420.1 C1306.6,425.3 1305.3,429.7 1303.5,433.1 C1301.8,436.5 1299.0,439.4 1297.4,440.5 C1295.9,441.6 1295.1,440.5 1294.3,439.7 C1293.4,438.9 1292.8,439.9 1292.4,435.7 C1292.1,431.5 1292.1,422.5 1292.1,414.5 C1292.2,406.6 1292.4,396.8 1292.7,388.0 C1292.9,379.2 1293.4,370.3 1293.7,361.5 C1294.1,352.7 1294.1,341.5 1294.8,335.0 C1295.5,328.5 1296.9,329.0 1297.7,322.5 C1298.5,316.0 1298.9,304.9 1299.4,296.0 C1300.0,287.2 1299.8,278.3 1301.2,269.5 C1302.5,260.7 1305.2,251.8 1307.8,243.0 C1310.3,234.2 1312.6,224.4 1316.5,216.5 C1320.5,208.6 1327.3,197.6 1331.4,195.8Z" fill="#d01c1c" stroke="#d01c1c" stroke-width="0.6"/><path d="M1331.4,200.1 C1334.3,198.7 1336.4,205.8 1338.0,208.6 C1339.5,211.3 1339.3,210.8 1340.6,216.5 C1342.0,222.2 1344.8,234.2 1345.9,243.0 C1347.0,251.8 1347.4,260.7 1347.3,269.5 C1347.1,278.3 1346.3,287.2 1345.1,296.0 C1344.0,304.9 1343.9,315.8 1340.6,322.5 C1337.4,329.2 1329.5,331.7 1325.5,336.1 C1321.6,340.4 1318.8,344.2 1317.1,348.8 C1315.3,353.4 1315.6,358.3 1314.9,363.6 C1314.2,368.9 1313.9,375.3 1312.8,380.6 C1311.8,385.9 1310.0,391.2 1308.6,395.4 C1307.2,399.7 1305.6,404.1 1304.3,406.0 C1303.1,408.0 1302.2,408.2 1301.2,407.1 C1300.1,406.0 1298.6,403.4 1298.0,399.7 C1297.4,396.0 1297.2,390.8 1297.4,384.8 C1297.7,378.8 1299.0,370.7 1299.6,363.6 C1300.1,356.6 1300.7,349.3 1300.6,342.4 C1300.6,335.6 1299.1,330.3 1299.3,322.5 C1299.5,314.8 1300.8,304.9 1301.5,296.0 C1302.3,287.2 1302.2,278.3 1303.8,269.5 C1305.4,260.7 1308.2,251.8 1311.0,243.0 C1313.7,234.2 1316.8,223.7 1320.2,216.5 C1323.6,209.3 1328.4,201.4 1331.4,200.1Z" fill="#f08080" stroke="#f08080" stroke-width="0.6"/><path d="M1331.4,203.8 C1333.5,202.9 1335.0,209.1 1336.1,211.2 C1337.2,213.3 1336.8,211.2 1338.0,216.5 C1339.2,221.8 1342.2,234.2 1343.3,243.0 C1344.4,251.8 1344.8,260.7 1344.6,269.5 C1344.4,278.3 1343.3,287.2 1342.0,296.0 C1340.6,304.9 1340.1,315.8 1336.7,322.5 C1333.2,329.2 1324.7,332.7 1321.3,336.1 C1317.8,339.4 1317.8,340.6 1316.0,342.4 C1314.2,344.3 1312.1,347.2 1310.7,347.2 C1309.3,347.2 1308.5,344.5 1307.5,342.4 C1306.5,340.4 1306.0,338.3 1304.9,335.0 C1303.8,331.7 1301.1,329.0 1300.9,322.5 C1300.7,316.0 1302.7,304.9 1303.5,296.0 C1304.4,287.2 1304.5,278.3 1306.2,269.5 C1307.9,260.7 1310.9,251.8 1313.7,243.0 C1316.6,234.2 1320.5,223.0 1323.4,216.5 C1326.4,210.0 1329.2,204.7 1331.4,203.8Z" fill="#f9b4b4" stroke="#f9b4b4" stroke-width="0.6"/><path d="M1301.1,363.6 C1301.9,361.8 1302.9,360.4 1304.3,361.5 C1305.7,362.5 1309.1,366.1 1309.6,370.0 C1310.1,373.8 1308.6,380.9 1307.5,384.8 C1306.4,388.7 1304.5,393.3 1303.3,393.3 C1302.0,393.3 1300.7,388.3 1300.1,384.8 C1299.5,381.3 1299.5,375.6 1299.7,372.1 C1299.8,368.5 1300.4,365.4 1301.1,363.6Z" fill="#f9b4b4" stroke="#f9b4b4" stroke-width="0.6"/><path d="M1222.7,445.0 C1224.7,440.7 1229.3,444.8 1234.6,445.0 C1239.9,445.2 1249.0,445.2 1254.5,446.3 C1260.0,447.4 1263.6,449.4 1267.8,451.6 C1272.0,453.8 1277.0,457.0 1279.7,459.6 C1282.3,462.1 1285.6,465.3 1283.7,467.0 C1281.7,468.7 1275.9,469.0 1267.8,469.6 C1259.6,470.3 1242.1,470.5 1234.6,470.7 C1227.1,470.9 1224.7,475.0 1222.7,470.7 C1220.7,466.4 1220.7,449.3 1222.7,445.0Z" fill="#ff1000" stroke="#ff1000" stroke-width="0.6"/><path d="M1222.7,447.6 C1224.7,443.8 1230.2,447.4 1234.6,447.6 C1239.0,447.9 1245.4,447.9 1249.2,449.0 C1253.0,450.1 1254.5,452.1 1257.2,454.3 C1259.8,456.5 1263.3,460.0 1265.1,462.2 C1267.0,464.4 1269.2,466.2 1268.3,467.5 C1267.4,468.8 1265.4,469.4 1259.8,469.9 C1254.2,470.4 1240.8,470.6 1234.6,470.7 C1228.4,470.8 1224.7,474.5 1222.7,470.7 C1220.7,466.9 1220.7,451.5 1222.7,447.6Z" fill="#e01010" stroke="#e01010" stroke-width="0.6"/><path d="M1222.7,461.7 C1224.7,460.2 1230.2,461.6 1234.6,461.7 C1239.0,461.8 1245.4,461.7 1249.2,462.2 C1253.0,462.7 1255.5,463.9 1257.2,464.9 C1258.8,465.8 1260.2,467.2 1259.3,468.1 C1258.4,468.9 1256.0,469.7 1251.9,470.2 C1247.7,470.6 1239.5,470.6 1234.6,470.7 C1229.8,470.8 1224.7,472.2 1222.7,470.7 C1220.7,469.2 1220.7,463.2 1222.7,461.7Z" fill="#d01c1c" stroke="#d01c1c" stroke-width="0.6"/><path d="M1334.6,414.5 C1335.8,409.6 1338.0,404.7 1341.0,403.0 C1343.9,401.3 1349.8,401.5 1352.5,404.2 C1355.1,407.0 1356.3,414.1 1356.8,419.6 C1357.4,425.2 1357.2,432.4 1355.8,437.5 C1354.4,442.6 1351.5,448.4 1348.6,450.3 C1345.7,452.2 1341.0,452.0 1338.4,449.0 C1335.8,446.1 1333.9,438.2 1333.3,432.4 C1332.6,426.6 1333.3,419.4 1334.6,414.5Z" fill="#ff8000" stroke="#ff8000" stroke-width="0.6"/><path d="M1589.8,470.7 C1590.7,470.0 1595.3,469.2 1597.7,468.8 C1600.2,468.5 1603.3,468.0 1604.4,468.8 C1605.5,469.7 1605.5,473.3 1604.4,474.1 C1603.3,475.0 1599.7,474.3 1597.7,474.1 C1595.7,474.0 1593.8,473.9 1592.4,473.4 C1591.1,472.8 1588.9,471.5 1589.8,470.7Z" fill="#ffe030" stroke="#ffe030" stroke-width="0.6"/><path d="M1222.7,182.8 C1224.7,149.7 1230.2,183.9 1234.6,182.8 C1239.0,181.7 1243.7,178.6 1249.2,176.2 C1254.7,173.8 1262.5,170.7 1267.8,168.2 C1273.1,165.8 1277.3,164.5 1281.0,161.6 C1284.8,158.7 1288.2,151.0 1290.3,151.0 C1292.4,151.0 1293.3,156.3 1293.7,161.6 C1294.2,166.9 1293.3,177.2 1292.9,182.8 C1292.6,188.4 1292.3,191.5 1291.6,195.3 C1290.9,199.1 1290.5,201.9 1289.0,205.9 C1287.4,209.9 1283.7,213.0 1282.3,219.2 C1281.0,225.3 1281.4,234.6 1281.0,243.0 C1280.6,251.4 1280.1,260.7 1279.7,269.5 C1279.2,278.3 1278.8,287.2 1278.4,296.0 C1277.9,304.9 1277.5,316.0 1277.0,322.5 C1276.6,329.0 1276.4,330.3 1275.7,335.0 C1275.0,339.7 1274.4,345.2 1273.1,350.9 C1271.7,356.6 1270.0,364.8 1267.8,369.5 C1265.5,374.1 1263.8,376.7 1259.8,378.7 C1255.8,380.7 1248.1,380.9 1243.9,381.4 C1239.7,381.8 1238.2,381.4 1234.6,381.4 C1231.1,381.4 1224.7,414.5 1222.7,381.4 C1220.7,348.3 1220.7,215.9 1222.7,182.8Z" fill="#98ceee" stroke="#98ceee" stroke-width="0.6"/><path d="M1222.7,203.3 C1224.7,174.7 1229.8,203.2 1234.6,203.3 C1239.5,203.3 1247.2,203.3 1251.9,203.8 C1256.5,204.3 1259.8,203.4 1262.5,206.4 C1265.1,209.4 1266.7,215.7 1267.8,221.8 C1268.9,227.9 1269.0,235.1 1269.1,243.0 C1269.2,251.0 1268.1,260.7 1268.3,269.5 C1268.5,278.3 1270.1,287.2 1270.4,296.0 C1270.8,304.9 1270.4,316.0 1270.4,322.5 C1270.4,329.0 1270.8,330.3 1270.4,335.0 C1270.0,339.7 1269.1,346.0 1267.8,350.9 C1266.4,355.8 1265.5,360.6 1262.5,364.2 C1259.4,367.7 1253.8,370.3 1249.2,372.1 C1244.6,373.9 1239.0,374.3 1234.6,374.8 C1230.2,375.2 1224.7,403.3 1222.7,374.8 C1220.7,346.2 1220.7,231.8 1222.7,203.3Z" fill="#50b8f0" stroke="#50b8f0" stroke-width="0.6"/><path d="M1222.7,229.8 C1224.7,207.1 1229.8,228.9 1234.6,229.8 C1239.5,230.6 1248.1,230.6 1251.9,235.1 C1255.6,239.5 1256.3,248.3 1257.2,256.3 C1258.0,264.2 1256.3,273.9 1257.2,282.8 C1258.0,291.6 1261.4,300.9 1262.5,309.3 C1263.6,317.7 1263.3,328.8 1263.8,333.1 C1264.2,337.4 1265.5,332.0 1265.1,335.0 C1264.7,338.0 1263.3,346.5 1261.1,350.9 C1258.9,355.3 1256.3,359.1 1251.9,361.5 C1247.4,363.9 1239.5,364.8 1234.6,365.5 C1229.8,366.1 1224.7,388.1 1222.7,365.5 C1220.7,342.9 1220.7,252.4 1222.7,229.8Z" fill="#20a0f0" stroke="#20a0f0" stroke-width="0.6"/><path d="M1222.7,256.3 C1224.7,239.2 1231.3,254.9 1234.6,256.3 C1237.9,257.6 1240.8,259.8 1242.6,264.2 C1244.3,268.6 1244.1,275.3 1245.2,282.8 C1246.3,290.3 1247.4,300.9 1249.2,309.3 C1251.0,317.7 1254.5,328.8 1255.8,333.1 C1257.2,337.4 1257.6,332.5 1257.2,335.0 C1256.7,337.5 1255.4,344.7 1253.2,348.3 C1251.0,351.8 1247.0,354.4 1243.9,356.2 C1240.8,358.0 1238.2,358.4 1234.6,358.9 C1231.1,359.3 1224.7,376.0 1222.7,358.9 C1220.7,341.8 1220.7,273.4 1222.7,256.3Z" fill="#2088f0" stroke="#2088f0" stroke-width="0.6"/><path d="M1222.7,290.7 C1224.7,280.7 1231.8,289.8 1234.6,290.7 C1237.5,291.6 1238.4,292.9 1239.9,296.0 C1241.5,299.1 1242.6,303.1 1243.9,309.3 C1245.2,315.5 1246.8,328.8 1247.9,333.1 C1249.0,337.4 1250.7,333.1 1250.5,335.0 C1250.3,336.9 1249.2,341.6 1246.6,344.3 C1243.9,346.9 1238.6,349.8 1234.6,350.9 C1230.7,352.0 1224.7,360.9 1222.7,350.9 C1220.7,340.9 1220.7,300.7 1222.7,290.7Z" fill="#3080f0" stroke="#3080f0" stroke-width="0.6"/><path d="M1222.7,301.3 C1224.7,294.4 1231.8,300.0 1234.6,301.3 C1237.5,302.6 1238.8,304.9 1239.9,309.3 C1241.0,313.7 1241.0,323.5 1241.3,327.8 C1241.5,332.1 1241.7,332.9 1241.3,335.0 C1240.8,337.1 1239.7,339.0 1238.6,340.3 C1237.5,341.6 1237.3,342.5 1234.6,343.0 C1232.0,343.4 1224.7,349.9 1222.7,343.0 C1220.7,336.0 1220.7,308.3 1222.7,301.3Z" fill="#4868e0" stroke="#4868e0" stroke-width="0.6"/><path d="M1604.4,296.0 C1603.3,269.0 1603.0,295.6 1597.7,296.0 C1592.4,296.5 1581.2,296.9 1572.6,298.7 C1563.9,300.4 1553.6,304.0 1546.0,306.6 C1538.5,309.3 1531.9,311.5 1527.5,314.6 C1523.1,317.7 1521.3,321.8 1519.5,325.2 C1517.8,328.6 1516.9,331.6 1516.9,335.0 C1516.9,338.4 1517.3,342.1 1519.5,345.6 C1521.8,349.1 1526.6,351.3 1530.1,356.2 C1533.7,361.1 1537.7,368.6 1540.7,374.8 C1543.8,380.9 1547.8,387.1 1548.7,393.3 C1549.6,399.5 1548.7,407.4 1546.0,411.9 C1543.4,416.3 1539.0,417.8 1532.8,419.8 C1526.6,421.8 1515.6,423.8 1508.9,423.8 C1502.3,423.8 1497.5,422.2 1493.0,419.8 C1488.6,417.4 1486.9,412.3 1482.4,409.2 C1478.0,406.1 1471.4,403.2 1466.5,401.3 C1461.7,399.3 1457.7,396.0 1453.3,397.3 C1448.9,398.6 1444.9,405.0 1440.0,409.2 C1435.2,413.4 1427.2,418.0 1424.1,422.5 C1421.0,426.9 1420.6,431.7 1421.5,435.7 C1422.4,439.7 1424.1,443.7 1429.4,446.3 C1434.7,449.0 1442.7,450.5 1453.3,451.6 C1463.9,452.7 1482.0,452.1 1493.0,452.9 C1504.1,453.8 1508.5,456.0 1519.5,456.9 C1530.6,457.8 1546.3,458.0 1559.3,458.2 C1572.3,458.5 1590.2,458.2 1597.7,458.2 C1605.2,458.2 1603.3,485.3 1604.4,458.2 C1605.5,431.2 1605.5,323.1 1604.4,296.0Z" fill="#98ceee" stroke="#98ceee" stroke-width="0.6"/><path d="M1604.4,319.9 C1603.3,300.3 1603.0,319.4 1597.7,319.9 C1592.4,320.3 1581.2,320.8 1572.6,322.5 C1563.9,324.3 1548.7,328.4 1546.0,330.5 C1543.4,332.6 1555.1,331.6 1556.7,335.0 C1558.2,338.4 1554.9,344.3 1555.3,350.9 C1555.8,357.5 1557.8,367.2 1559.3,374.8 C1560.8,382.3 1563.5,389.3 1564.6,396.0 C1565.7,402.6 1564.6,409.2 1565.9,414.5 C1567.3,419.8 1569.2,424.2 1572.6,427.8 C1575.9,431.3 1581.6,434.2 1585.8,435.7 C1590.0,437.3 1594.6,436.8 1597.7,437.0 C1600.8,437.3 1603.3,456.6 1604.4,437.0 C1605.5,417.5 1605.5,339.4 1604.4,319.9Z" fill="#50b8f0" stroke="#50b8f0" stroke-width="0.6"/><path d="M1511.6,443.7 C1511.6,441.7 1516.0,440.1 1519.5,439.7 C1523.1,439.2 1530.6,439.2 1532.8,441.0 C1535.0,442.8 1535.0,448.5 1532.8,450.3 C1530.6,452.1 1523.1,452.7 1519.5,451.6 C1516.0,450.5 1511.6,445.7 1511.6,443.7Z" fill="#50b8f0" stroke="#50b8f0" stroke-width="0.6"/><path d="M1604.4,346.9 C1603.3,339.8 1601.3,347.0 1597.7,347.7 C1594.2,348.5 1586.2,349.1 1583.2,351.4 C1580.1,353.7 1579.6,357.2 1579.2,361.5 C1578.7,365.8 1579.0,373.0 1580.5,377.4 C1582.1,381.8 1585.6,385.8 1588.5,388.0 C1591.3,390.2 1595.1,390.2 1597.7,390.7 C1600.4,391.1 1603.3,397.9 1604.4,390.7 C1605.5,383.4 1605.5,354.1 1604.4,346.9Z" fill="#20a0f0" stroke="#20a0f0" stroke-width="0.6"/><path d="M1392.3,473.9 C1395.9,473.4 1403.4,473.1 1413.5,473.1 C1423.7,473.0 1446.7,473.2 1453.3,473.6 C1459.9,474.0 1459.9,475.1 1453.3,475.5 C1446.7,475.8 1423.7,475.7 1413.5,475.7 C1403.4,475.8 1395.9,476.0 1392.3,475.7 C1388.8,475.4 1388.8,474.3 1392.3,473.9Z" fill="#98ceee" stroke="#98ceee" stroke-width="0.6"/></g>
<g stroke="#d0d0d0" stroke-opacity="0.85" stroke-width="2.3" stroke-linecap="round" stroke-dasharray="0.1,5.25" fill="none"><line x1="1292.7" y1="47.7" x2="1292.7" y2="481.5"/><line x1="1354.3" y1="47.7" x2="1354.3" y2="481.5"/><line x1="1416.0" y1="47.7" x2="1416.0" y2="481.5"/><line x1="1477.7" y1="47.7" x2="1477.7" y2="481.5"/><line x1="1539.3" y1="47.7" x2="1539.3" y2="481.5"/><line x1="1231.0" y1="85.7" x2="1601.0" y2="85.7"/><line x1="1231.0" y1="145.7" x2="1601.0" y2="145.7"/><line x1="1231.0" y1="192.3" x2="1601.0" y2="192.3"/><line x1="1231.0" y1="230.3" x2="1601.0" y2="230.3"/><line x1="1231.0" y1="290.3" x2="1601.0" y2="290.3"/><line x1="1231.0" y1="336.9" x2="1601.0" y2="336.9"/><line x1="1231.0" y1="374.9" x2="1601.0" y2="374.9"/><line x1="1231.0" y1="407.1" x2="1601.0" y2="407.1"/><line x1="1231.0" y1="434.9" x2="1601.0" y2="434.9"/><line x1="1231.0" y1="459.5" x2="1601.0" y2="459.5"/></g>
<path d="M1426.8,49.0 C1430.3,50.7 1440.5,55.6 1448.0,59.6 C1455.5,63.6 1464.5,69.6 1471.8,72.8 C1479.1,76.1 1488.4,77.9 1491.7,78.9" fill="none" stroke="#000" stroke-width="2.6" stroke-linecap="butt"/><text transform="translate(1521.7,92.7) rotate(18)" font-size="24" text-anchor="middle" dy="0.36em">0.1</text><path d="M1552.7,95.4 C1556.0,95.7 1565.0,96.1 1572.6,97.5 C1580.1,98.9 1593.5,102.8 1597.7,103.8" fill="none" stroke="#000" stroke-width="2.6" stroke-linecap="butt"/><path d="M1234.6,190.2 C1237.9,188.6 1247.2,183.3 1254.5,180.2 C1261.8,177.1 1272.6,175.2 1278.4,171.7 C1284.1,168.2 1285.9,163.7 1289.0,159.0 C1292.1,154.2 1294.3,149.7 1296.9,143.1 C1299.6,136.4 1302.2,126.3 1304.9,119.2 C1307.5,112.1 1309.9,105.5 1312.8,100.7 C1315.7,95.8 1318.3,92.4 1322.1,90.1 C1325.8,87.8 1331.1,86.4 1335.3,86.9 C1339.5,87.3 1343.1,89.9 1347.3,92.7 C1351.5,95.5 1358.3,102.0 1360.5,103.8" fill="none" stroke="#000" stroke-width="2.6" stroke-linecap="butt"/><text transform="translate(1391.8,124.5) rotate(38)" font-size="24" text-anchor="middle" dy="0.36em">0.5</text><path d="M1418.8,145.7 C1421.9,147.9 1431.6,155.0 1437.4,159.0 C1443.1,162.9 1448.4,167.3 1453.3,169.6 C1458.1,171.9 1459.9,172.1 1466.5,172.7 C1473.2,173.4 1479.8,173.0 1493.0,173.5 C1506.3,174.1 1532.8,176.0 1546.0,176.2 C1559.3,176.4 1563.9,174.2 1572.6,174.9 C1581.2,175.5 1593.5,179.3 1597.7,180.2" fill="none" stroke="#000" stroke-width="2.6" stroke-linecap="butt"/><path d="M1234.6,220.5 C1238.8,220.0 1252.1,219.2 1259.8,217.8 C1267.5,216.5 1275.7,215.0 1281.0,212.5 C1286.3,210.1 1288.3,206.6 1291.6,203.3 C1294.9,199.9 1296.9,196.9 1300.9,192.7 C1304.9,188.4 1311.3,181.0 1315.5,177.5 C1319.7,174.0 1322.1,172.4 1326.1,171.7 C1330.0,171.0 1334.5,172.1 1339.3,173.5 C1344.2,175.0 1349.5,177.7 1355.2,180.2 C1361.0,182.6 1368.9,186.5 1373.8,188.1 C1378.6,189.8 1377.7,188.4 1384.4,190.0 C1391.0,191.6 1402.9,195.1 1413.5,198.0 C1424.1,200.8 1434.3,205.2 1448.0,207.2 C1461.7,209.2 1487.7,209.4 1495.7,209.9" fill="none" stroke="#000" stroke-width="2.6" stroke-linecap="butt"/><text transform="translate(1515.6,209.1) rotate(0)" font-size="24" text-anchor="middle" dy="0.36em">1</text><path d="M1534.1,211.7 C1540.5,212.0 1562.0,212.4 1572.6,213.3 C1583.2,214.2 1593.5,216.4 1597.7,217.0" fill="none" stroke="#000" stroke-width="2.6" stroke-linecap="butt"/><path d="M1234.6,269.5 C1242.4,269.5 1266.7,270.7 1281.0,269.5 C1295.4,268.3 1307.5,262.3 1320.8,262.1 C1334.0,261.9 1345.1,267.2 1360.5,268.2 C1376.0,269.2 1391.0,267.2 1413.5,268.2 C1436.1,269.2 1482.0,273.3 1495.7,274.3" fill="none" stroke="#000" stroke-width="2.6" stroke-linecap="butt"/><text transform="translate(1515.6,274.3) rotate(0)" font-size="24" text-anchor="middle" dy="0.36em">3</text><path d="M1534.1,278.0 L1597.7,285.4" fill="none" stroke="#000" stroke-width="2.6" stroke-linecap="butt"/><path d="M1234.6,312.4 C1242.4,312.4 1268.0,312.4 1281.0,311.9 C1294.0,311.4 1301.8,308.6 1312.8,309.3 C1323.9,309.9 1330.5,314.1 1347.3,315.9 C1364.1,317.7 1397.4,318.5 1413.5,319.9 C1429.7,321.2 1438.9,323.2 1444.0,323.8" fill="none" stroke="#000" stroke-width="2.6" stroke-linecap="butt"/><text transform="translate(1463.4,323.3) rotate(0)" font-size="24" text-anchor="middle" dy="0.36em">6</text><path d="M1482.4,325.7 C1488.6,326.3 1508.1,327.9 1519.5,329.1 C1531.0,330.4 1542.5,332.0 1551.4,333.4 C1560.2,334.8 1564.8,336.2 1572.6,337.4 C1580.3,338.5 1593.5,339.8 1597.7,340.3" fill="none" stroke="#000" stroke-width="2.6" stroke-linecap="butt"/><path d="M1234.6,366.8 C1240.1,366.5 1256.1,364.9 1267.8,364.7 C1279.5,364.5 1296.0,364.7 1304.9,365.5 C1313.7,366.3 1315.0,367.9 1320.8,369.5 C1326.5,371.0 1331.8,373.2 1339.3,374.8 C1346.8,376.3 1355.7,377.8 1365.8,378.7 C1376.0,379.7 1394.5,380.3 1400.3,380.6" fill="none" stroke="#000" stroke-width="2.6" stroke-linecap="butt"/><text transform="translate(1426.8,381.4) rotate(3)" font-size="24" text-anchor="middle" dy="0.36em">10</text><path d="M1453.3,384.6 C1459.9,384.9 1477.6,385.4 1493.0,386.7 C1508.5,387.9 1528.6,390.5 1546.0,392.0 C1563.5,393.4 1589.1,394.9 1597.7,395.4" fill="none" stroke="#000" stroke-width="2.6" stroke-linecap="butt"/><path d="M1234.6,419.3 C1240.1,418.7 1256.5,417.0 1267.8,415.8 C1279.0,414.7 1294.3,412.4 1302.2,412.4 C1310.2,412.4 1310.2,414.2 1315.5,415.8 C1320.8,417.5 1326.5,420.7 1334.0,422.5 C1341.5,424.2 1350.8,425.3 1360.5,426.4 C1370.2,427.5 1381.3,427.8 1392.3,429.1 C1403.4,430.4 1414.4,432.8 1426.8,434.4 C1439.1,436.0 1451.3,437.7 1466.5,438.9 C1481.8,440.1 1509.6,441.3 1518.2,441.8" fill="none" stroke="#000" stroke-width="2.6" stroke-linecap="butt"/><text transform="translate(1544.7,441.8) rotate(3)" font-size="24" text-anchor="middle" dy="0.36em">15</text><path d="M1571.2,444.2 L1597.7,447.6" fill="none" stroke="#000" stroke-width="2.6" stroke-linecap="butt"/><path d="M1234.6,462.7 C1240.1,462.6 1258.7,462.1 1267.8,461.7 C1276.8,461.2 1283.2,460.0 1289.0,460.1 C1294.7,460.2 1298.0,461.3 1302.2,462.2 C1306.4,463.1 1312.2,464.9 1314.1,465.4" fill="none" stroke="#000" stroke-width="2.6" stroke-linecap="butt"/><text transform="translate(1336.7,468.8) rotate(12)" font-size="24" text-anchor="middle" dy="0.36em">21</text><path d="M1363.2,473.4 C1365.4,473.6 1372.1,474.3 1376.4,474.7 C1380.8,475.0 1387.0,475.3 1389.1,475.5" fill="none" stroke="#000" stroke-width="2.6" stroke-linecap="butt"/><text x="1264" y="90" font-size="41" font-weight="bold" text-anchor="middle" class="w" stroke-linejoin="round" fill="#fff">c</text><text x="1264" y="90" font-size="41" font-weight="bold" text-anchor="middle" fill="#000" class="nb">c</text><text transform="translate(1254.5,71.5) rotate(-40)" font-size="24" text-anchor="middle" dy="0.36em">0.1</text>
</g>

<rect x="1231.0" y="47.7" width="370.0" height="433.8" fill="none" stroke="#000" stroke-width="2" stroke-linejoin="miter"/>
<g stroke="#000" stroke-width="2"><line x1="1231.0" y1="481.5" x2="1231.0" y2="490.5"/><line x1="1292.7" y1="481.5" x2="1292.7" y2="490.5"/><line x1="1354.3" y1="481.5" x2="1354.3" y2="490.5"/><line x1="1416.0" y1="481.5" x2="1416.0" y2="490.5"/><line x1="1477.7" y1="481.5" x2="1477.7" y2="490.5"/><line x1="1539.3" y1="481.5" x2="1539.3" y2="490.5"/><line x1="1601.0" y1="481.5" x2="1601.0" y2="490.5"/><line x1="1231.0" y1="85.7" x2="1222.0" y2="85.7"/><line x1="1231.0" y1="145.7" x2="1222.0" y2="145.7"/><line x1="1231.0" y1="192.3" x2="1222.0" y2="192.3"/><line x1="1231.0" y1="230.3" x2="1222.0" y2="230.3"/><line x1="1231.0" y1="290.3" x2="1222.0" y2="290.3"/><line x1="1231.0" y1="336.9" x2="1222.0" y2="336.9"/><line x1="1231.0" y1="374.9" x2="1222.0" y2="374.9"/><line x1="1231.0" y1="407.1" x2="1222.0" y2="407.1"/><line x1="1231.0" y1="434.9" x2="1222.0" y2="434.9"/><line x1="1231.0" y1="459.5" x2="1222.0" y2="459.5"/><line x1="1231.0" y1="481.5" x2="1222.0" y2="481.5"/></g>
<g font-size="24" fill="#000"><text x="1231.0" y="518.5" text-anchor="middle">0</text><text x="1292.7" y="518.5" text-anchor="middle">50</text><text x="1354.3" y="518.5" text-anchor="middle">100</text><text x="1416.0" y="518.5" text-anchor="middle">150</text><text x="1477.7" y="518.5" text-anchor="middle">200</text><text x="1539.3" y="518.5" text-anchor="middle">250</text><text x="1601.0" y="518.5" text-anchor="middle">300</text></g>
<text x="1328.2" y="558.3" font-size="27.6" textLength="175.5" lengthAdjust="spacingAndGlyphs">Radius [km]</text>
<text x="1289.3" y="29.4" font-size="33" font-style="italic" textLength="52" lengthAdjust="spacingAndGlyphs">mr'</text>
<text x="1357.4" y="29.4" font-size="33" textLength="62" lengthAdjust="spacingAndGlyphs">and</text>
<text x="1434" y="29.4" font-size="33" font-style="italic" textLength="44.5" lengthAdjust="spacingAndGlyphs">mr</text>
<text x="1481.4" y="35.6" font-size="23" font-style="italic" textLength="60" lengthAdjust="spacingAndGlyphs">CTRL</text>
<rect x="1630.9" y="441.81" width="14.8" height="20.29" fill="#6020e0"/><rect x="1630.9" y="422.13" width="14.8" height="20.29" fill="#1414f5"/><rect x="1630.9" y="402.44" width="14.8" height="20.29" fill="#2838f0"/><rect x="1630.9" y="382.76" width="14.8" height="20.29" fill="#4868e0"/><rect x="1630.9" y="363.07" width="14.8" height="20.29" fill="#3080f0"/><rect x="1630.9" y="343.39" width="14.8" height="20.29" fill="#2088f0"/><rect x="1630.9" y="323.70" width="14.8" height="20.29" fill="#20a0f0"/><rect x="1630.9" y="304.02" width="14.8" height="20.29" fill="#50b8f0"/><rect x="1630.9" y="284.33" width="14.8" height="20.29" fill="#98ceee"/><rect x="1630.9" y="264.65" width="14.8" height="20.29" fill="#ffffff"/><rect x="1630.9" y="244.96" width="14.8" height="20.29" fill="#ffffff"/><rect x="1630.9" y="225.28" width="14.8" height="20.29" fill="#ffe030"/><rect x="1630.9" y="205.59" width="14.8" height="20.29" fill="#ffc010"/><rect x="1630.9" y="185.91" width="14.8" height="20.29" fill="#ffa000"/><rect x="1630.9" y="166.22" width="14.8" height="20.29" fill="#ff8000"/><rect x="1630.9" y="146.54" width="14.8" height="20.29" fill="#ff5000"/><rect x="1630.9" y="126.85" width="14.8" height="20.29" fill="#ff1000"/><rect x="1630.9" y="107.17" width="14.8" height="20.29" fill="#e01010"/><rect x="1630.9" y="87.48" width="14.8" height="20.29" fill="#d01c1c"/><rect x="1630.9" y="67.80" width="14.8" height="20.29" fill="#f08080"/><path d="M1630.9,68.39999999999999 L1638.3000000000002,47.2 L1645.7,68.39999999999999Z" fill="#f9b4b4"/><path d="M1630.9,461.5 L1638.3000000000002,482.8 L1645.7,461.5Z" fill="#7828e8"/><path d="M1630.9,68.1 L1638.3000000000002,47.2 L1645.7,68.1 L1645.7,461.8 L1638.3000000000002,482.8 L1630.9,461.8Z" fill="none" stroke="#000" stroke-width="2" stroke-linejoin="miter"/>
<g stroke="#000" stroke-width="2"><line x1="1645.7" y1="68.1" x2="1654.7" y2="68.1"/><line x1="1645.7" y1="107.5" x2="1654.7" y2="107.5"/><line x1="1645.7" y1="146.8" x2="1654.7" y2="146.8"/><line x1="1645.7" y1="186.2" x2="1654.7" y2="186.2"/><line x1="1645.7" y1="225.6" x2="1654.7" y2="225.6"/><line x1="1645.7" y1="265.0" x2="1654.7" y2="265.0"/><line x1="1645.7" y1="304.3" x2="1654.7" y2="304.3"/><line x1="1645.7" y1="343.7" x2="1654.7" y2="343.7"/><line x1="1645.7" y1="383.1" x2="1654.7" y2="383.1"/><line x1="1645.7" y1="422.4" x2="1654.7" y2="422.4"/><line x1="1645.7" y1="461.8" x2="1654.7" y2="461.8"/></g>
<g font-size="24" fill="#000"><text x="1665.1" y="77.8">2.0</text><text x="1665.1" y="117.2">1.6</text><text x="1665.1" y="156.5">1.2</text><text x="1665.1" y="195.9">0.8</text><text x="1665.1" y="235.3">0.4</text><text x="1665.1" y="274.7">0.0</text><text x="1665.1" y="314.0">−0.4</text><text x="1665.1" y="353.4">−0.8</text><text x="1665.1" y="392.8">−1.2</text><text x="1665.1" y="432.1">−1.6</text><text x="1665.1" y="471.5">−2.0</text></g>
<text x="1623.4" y="32.2" font-size="20.3" textLength="85" lengthAdjust="spacingAndGlyphs">[g kg<tspan font-size="14.2" dy="-7.8">−1</tspan><tspan dy="7.8">]</tspan></text>
</svg>
</body></html>
